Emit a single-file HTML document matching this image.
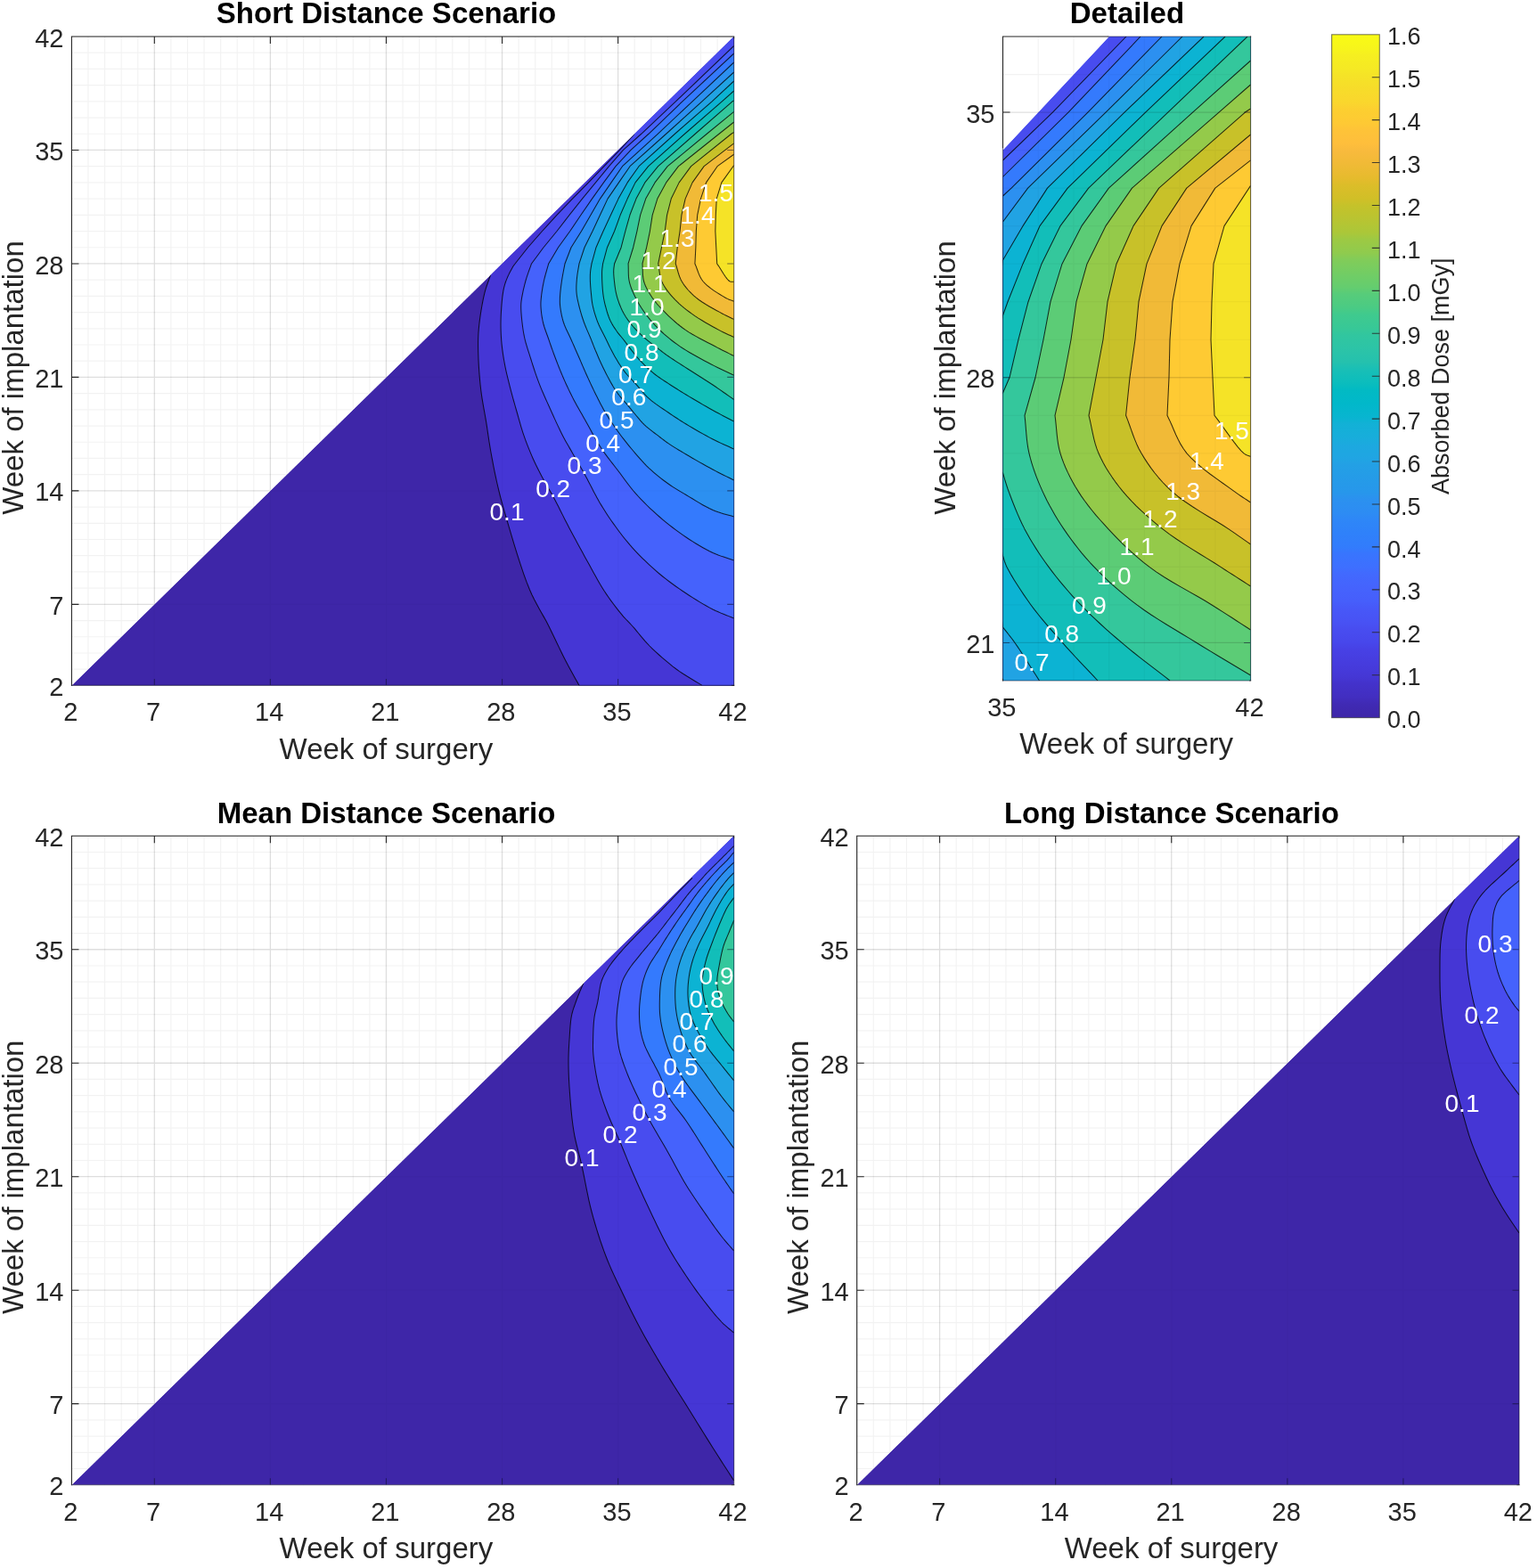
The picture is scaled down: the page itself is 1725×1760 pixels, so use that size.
<!DOCTYPE html>
<html lang="en"><head><meta charset="utf-8"><title>Absorbed dose contour plots</title>
<style>html,body{margin:0;padding:0;background:#fff}svg{display:block}text{font-family:"Liberation Sans", Arial, Helvetica, sans-serif;fill:#262626}.cl{font-family:"Liberation Sans", Arial, sans-serif;fill:#fff}.tt{fill:#000}</style></head><body>
<svg xmlns="http://www.w3.org/2000/svg" width="1725" height="1760" viewBox="0 0 1725 1760">
<rect width="1725" height="1760" fill="#fff"/>
<clipPath id="clipP1"><rect x="80.4" y="41" width="743.3" height="728.4"/></clipPath>
<clipPath id="clipP1d"><polygon points="80.4,769.4 823.7,41 823.7,769.4"/></clipPath>
<g clip-path="url(#clipP1)">
<path d="M98.98 41V769.4M117.57 41V769.4M136.15 41V769.4M154.73 41V769.4M191.9 41V769.4M210.48 41V769.4M229.06 41V769.4M247.64 41V769.4M266.23 41V769.4M284.81 41V769.4M321.97 41V769.4M340.56 41V769.4M359.14 41V769.4M377.72 41V769.4M396.3 41V769.4M414.88 41V769.4M452.05 41V769.4M470.63 41V769.4M489.22 41V769.4M507.8 41V769.4M526.38 41V769.4M544.96 41V769.4M582.13 41V769.4M600.71 41V769.4M619.29 41V769.4M637.88 41V769.4M656.46 41V769.4M675.04 41V769.4M712.21 41V769.4M730.79 41V769.4M749.37 41V769.4M767.95 41V769.4M786.53 41V769.4M805.12 41V769.4M80.4 751.19H823.7M80.4 732.98H823.7M80.4 714.77H823.7M80.4 696.56H823.7M80.4 660.14H823.7M80.4 641.93H823.7M80.4 623.72H823.7M80.4 605.51H823.7M80.4 587.3H823.7M80.4 569.09H823.7M80.4 532.67H823.7M80.4 514.46H823.7M80.4 496.25H823.7M80.4 478.04H823.7M80.4 459.83H823.7M80.4 441.62H823.7M80.4 405.2H823.7M80.4 386.99H823.7M80.4 368.78H823.7M80.4 350.57H823.7M80.4 332.36H823.7M80.4 314.15H823.7M80.4 277.73H823.7M80.4 259.52H823.7M80.4 241.31H823.7M80.4 223.1H823.7M80.4 204.89H823.7M80.4 186.68H823.7M80.4 150.26H823.7M80.4 132.05H823.7M80.4 113.84H823.7M80.4 95.63H823.7M80.4 77.42H823.7M80.4 59.21H823.7" stroke="#000" stroke-opacity="0.05" stroke-width="1.2" fill="none"/>
<path d="M80.4 41V769.4M173.31 41V769.4M303.39 41V769.4M433.47 41V769.4M563.55 41V769.4M693.62 41V769.4M823.7 41V769.4M80.4 769.4H823.7M80.4 678.35H823.7M80.4 550.88H823.7M80.4 423.41H823.7M80.4 295.94H823.7M80.4 168.47H823.7M80.4 41H823.7" stroke="#000" stroke-opacity="0.13" stroke-width="1.3" fill="none"/>
</g>
<g clip-path="url(#clipP1d)">
<polygon points="80.4,769.4 823.7,41 823.7,769.4" fill="#3e26a8"/>
<polygon points="550.5,308.7 549.64,311.26 548.76,313.76 547.87,316.22 546.99,318.7 546.12,321.24 545.28,323.87 544.47,326.65 543.7,329.6 542.7,333.96 541.73,338.71 540.79,343.74 539.91,348.93 539.1,354.18 538.38,359.38 537.78,364.43 537.3,369.2 537,373.07 536.78,376.79 536.65,380.41 536.58,383.99 536.57,387.57 536.62,391.2 536.69,394.93 536.8,398.8 536.97,403.48 537.2,408.33 537.5,413.3 537.86,418.34 538.27,423.4 538.73,428.45 539.24,433.43 539.8,438.3 540.4,442.86 541.08,447.4 541.83,451.9 542.61,456.38 543.41,460.81 544.21,465.22 544.98,469.58 545.7,473.9 546.32,477.86 546.9,481.73 547.46,485.55 548.01,489.34 548.58,493.15 549.17,497.01 549.81,500.95 550.5,505 551.35,509.77 552.25,514.68 553.19,519.68 554.17,524.74 555.19,529.84 556.26,534.94 557.36,540.01 558.5,545 559.65,549.82 560.8,554.5 561.98,559.11 563.21,563.74 564.5,568.46 565.89,573.36 567.38,578.51 569,584 571.57,592.68 574.43,602.3 577.51,612.54 580.78,623.08 584.16,633.62 587.61,643.83 591.07,653.39 594.5,662 597.05,667.73 599.66,673.08 602.32,678.12 604.99,682.96 607.67,687.68 610.32,692.37 612.94,697.11 615.5,702 617.96,706.93 620.39,711.92 622.79,716.93 625.17,721.92 627.53,726.86 629.87,731.72 632.19,736.44 634.5,741 636.48,744.78 638.43,748.44 640.37,752.01 642.3,755.51 644.22,758.97 646.14,762.41 648.07,765.88 650,769.4 650,829.4 883.7,829.4 883.7,-19 550.5,-19" fill="#4536d5"/>
<polygon points="712,150.5 695.5,168.47 678,186.68 660.5,204.89 642.5,223.1 625,241.31 608.5,259.52 592.5,277.73 578.1,296 577.76,296.48 577.42,296.92 577.09,297.35 576.76,297.78 576.42,298.25 576.06,298.76 575.69,299.33 575.3,300 574.35,301.7 573.24,303.75 572.03,306.08 570.78,308.62 569.54,311.33 568.36,314.14 567.29,316.98 566.4,319.8 565.55,323.17 564.84,326.71 564.25,330.39 563.76,334.16 563.37,337.99 563.03,341.83 562.75,345.65 562.5,349.4 562.29,353.09 562.14,356.79 562.05,360.49 562.02,364.2 562.05,367.9 562.14,371.6 562.29,375.3 562.5,379 562.78,382.72 563.13,386.44 563.54,390.16 564.02,393.88 564.54,397.59 565.12,401.3 565.74,405 566.4,408.7 567.13,412.44 567.92,416.2 568.78,419.97 569.69,423.73 570.61,427.46 571.55,431.15 572.49,434.77 573.4,438.3 574.21,441.39 575.01,444.39 575.82,447.33 576.63,450.24 577.45,453.13 578.29,456.04 579.13,458.99 580,462 580.92,465.26 581.84,468.55 582.76,471.86 583.7,475.2 584.67,478.55 585.69,481.92 586.76,485.31 587.9,488.7 589.2,492.37 590.58,496.1 592.02,499.87 593.51,503.64 595.04,507.39 596.61,511.1 598.2,514.75 599.8,518.3 601.34,521.57 602.94,524.84 604.59,528.09 606.25,531.28 607.91,534.39 609.54,537.4 611.11,540.28 612.6,543 613.66,544.9 614.66,546.64 615.62,548.26 616.57,549.84 617.53,551.44 618.52,553.13 619.57,554.96 620.7,557 622.64,560.64 624.73,564.69 626.95,569.06 629.26,573.65 631.63,578.38 634.03,583.14 636.43,587.85 638.8,592.4 641.21,596.95 643.65,601.53 646.11,606.12 648.6,610.7 651.09,615.28 653.6,619.85 656.1,624.39 658.6,628.9 661.03,633.32 663.46,637.76 665.87,642.2 668.3,646.62 670.75,650.99 673.22,655.27 675.74,659.45 678.3,663.5 680.72,667.13 683.22,670.75 685.77,674.32 688.34,677.8 690.89,681.16 693.39,684.37 695.8,687.4 698.1,690.2 699.67,692.04 701.16,693.7 702.61,695.24 704.02,696.71 705.45,698.17 706.9,699.67 708.41,701.26 710,703 712.14,705.45 714.32,708.06 716.55,710.79 718.86,713.6 721.24,716.46 723.72,719.34 726.3,722.2 729,725 732.34,728.28 735.88,731.63 739.58,735.01 743.4,738.38 747.29,741.71 751.22,744.95 755.13,748.06 759,751 762.57,753.57 766.18,755.99 769.8,758.31 773.43,760.55 777.08,762.74 780.73,764.93 784.37,767.14 788,769.4 788,829.4 883.7,829.4 883.7,-19 712,-19" fill="#484cef"/>
<polygon points="823.7,51.5 758.4,113.84 719.77,150.26 699.5,168.47 683.5,186.68 668.5,204.89 653.5,223.1 639,241.31 625,259.52 610,277.73 596.5,295.94 595.67,298.32 594.83,300.69 593.97,303.05 593.12,305.42 592.29,307.8 591.48,310.18 590.72,312.58 590,315 589.31,317.52 588.64,320.13 587.99,322.78 587.37,325.44 586.81,328.03 586.3,330.53 585.86,332.87 585.5,335 585.31,336.27 585.14,337.42 585.01,338.49 584.9,339.52 584.82,340.55 584.76,341.61 584.72,342.75 584.7,344 584.72,345.95 584.79,348.07 584.91,350.3 585.07,352.62 585.27,354.98 585.5,357.36 585.74,359.71 586,362 586.27,364.25 586.55,366.49 586.86,368.73 587.19,370.97 587.55,373.21 587.96,375.46 588.4,377.72 588.9,380 589.49,382.42 590.13,384.81 590.82,387.21 591.55,389.62 592.32,392.06 593.12,394.56 593.95,397.14 594.8,399.8 595.88,403.23 597.01,406.8 598.18,410.5 599.4,414.27 600.66,418.08 601.97,421.9 603.31,425.68 604.7,429.4 606.16,433.12 607.68,436.84 609.25,440.54 610.87,444.24 612.51,447.93 614.17,451.62 615.83,455.31 617.5,459 619.19,462.75 620.89,466.54 622.62,470.35 624.36,474.14 626.11,477.9 627.87,481.59 629.63,485.2 631.4,488.7 632.98,491.71 634.58,494.65 636.19,497.52 637.8,500.34 639.41,503.12 641.02,505.88 642.62,508.64 644.2,511.4 645.71,514.04 647.22,516.65 648.72,519.24 650.21,521.81 651.7,524.39 653.18,526.97 654.65,529.57 656.1,532.2 657.58,534.94 659.08,537.78 660.58,540.66 662.06,543.54 663.51,546.36 664.92,549.08 666.25,551.64 667.5,554 668.3,555.5 669.02,556.86 669.7,558.13 670.36,559.36 671.03,560.59 671.74,561.86 672.52,563.21 673.4,564.7 674.88,567.14 676.5,569.77 678.25,572.55 680.1,575.45 682.04,578.42 684.05,581.43 686.11,584.44 688.2,587.4 690.64,590.78 693.15,594.21 695.75,597.69 698.43,601.2 701.19,604.71 704.04,608.2 706.97,611.68 710,615.1 713.42,618.81 717,622.55 720.69,626.28 724.48,629.99 728.33,633.64 732.22,637.21 736.12,640.67 740,644 743.67,647.02 747.37,649.94 751.09,652.78 754.84,655.54 758.61,658.23 762.4,660.87 766.19,663.45 770,666 773.72,668.45 777.5,670.89 781.3,673.29 785.1,675.63 788.9,677.89 792.66,680.06 796.37,682.1 800,684 803.05,685.49 806.06,686.85 809.02,688.12 811.97,689.31 814.89,690.47 817.82,691.62 820.75,692.78 823.7,694 883.7,694 883.7,51.5" fill="#4562fc"/>
<polygon points="823.7,60 765.89,113.84 728,150.26 708,168.47 691,186.68 677.5,204.89 664.5,223.1 652,241.31 639.7,259.52 626.5,277.73 615.7,295.94 615.04,298.32 614.35,300.71 613.66,303.1 612.97,305.49 612.29,307.88 611.65,310.26 611.05,312.63 610.5,315 610.01,317.29 609.55,319.62 609.12,321.96 608.71,324.29 608.34,326.58 608.02,328.81 607.73,330.96 607.5,333 607.35,334.48 607.21,335.87 607.1,337.2 607.02,338.5 606.96,339.8 606.94,341.13 606.95,342.52 607,344 607.12,346.04 607.3,348.2 607.53,350.45 607.82,352.75 608.16,355.09 608.56,357.42 609,359.74 609.5,362 610.08,364.26 610.74,366.51 611.47,368.74 612.24,370.97 613.05,373.21 613.87,375.45 614.7,377.71 615.5,380 616.33,382.42 617.16,384.84 618,387.27 618.85,389.72 619.72,392.19 620.61,394.69 621.54,397.22 622.5,399.8 623.62,402.77 624.78,405.8 625.98,408.89 627.21,412.01 628.47,415.15 629.75,418.29 631.07,421.41 632.4,424.5 633.78,427.61 635.18,430.71 636.61,433.81 638.07,436.9 639.56,439.98 641.08,443.06 642.62,446.14 644.2,449.2 645.86,452.33 647.58,455.47 649.35,458.61 651.15,461.75 652.94,464.86 654.71,467.93 656.44,470.95 658.1,473.9 659.52,476.49 660.91,479.06 662.28,481.61 663.62,484.12 664.95,486.58 666.27,488.99 667.58,491.33 668.9,493.6 670.01,495.45 671.07,497.22 672.12,498.91 673.17,500.58 674.24,502.24 675.35,503.93 676.53,505.67 677.8,507.5 679.52,509.9 681.35,512.37 683.27,514.9 685.26,517.49 687.31,520.12 689.4,522.79 691.5,525.48 693.6,528.2 695.93,531.29 698.28,534.46 700.64,537.69 703.05,540.96 705.52,544.24 708.06,547.5 710.68,550.73 713.4,553.9 716.44,557.26 719.58,560.61 722.83,563.94 726.15,567.25 729.55,570.52 733,573.74 736.49,576.9 740,580 743.59,583.07 747.24,586.1 750.96,589.08 754.72,592.01 758.51,594.87 762.33,597.67 766.16,600.38 770,603 773.71,605.46 777.47,607.88 781.26,610.25 785.07,612.54 788.87,614.73 792.64,616.8 796.35,618.73 800,620.5 803.04,621.84 806.04,623.04 809.01,624.12 811.96,625.12 814.89,626.07 817.81,627.01 820.75,627.98 823.7,629 883.7,629 883.7,60" fill="#347afd"/>
<polygon points="823.7,70 777.11,113.84 738.24,150.26 698.5,186.68 686,204.89 673.5,223.1 663,241.31 652.5,259.52 641,277.73 634,295.94 633.55,298.33 633.09,300.72 632.62,303.11 632.16,305.5 631.71,307.89 631.27,310.27 630.87,312.64 630.5,315 630.17,317.3 629.84,319.63 629.54,321.97 629.26,324.3 629,326.59 628.79,328.82 628.62,330.96 628.5,333 628.43,334.48 628.39,335.88 628.36,337.21 628.35,338.51 628.38,339.81 628.45,341.13 628.55,342.52 628.7,344 628.96,346.05 629.28,348.21 629.66,350.46 630.11,352.77 630.62,355.11 631.18,357.44 631.81,359.75 632.5,362 633.3,364.27 634.2,366.52 635.18,368.76 636.22,370.99 637.3,373.21 638.38,375.45 639.46,377.71 640.5,380 641.57,382.42 642.64,384.85 643.72,387.29 644.8,389.75 645.88,392.23 646.98,394.73 648.08,397.25 649.2,399.8 650.41,402.57 651.63,405.39 652.85,408.25 654.09,411.13 655.34,414.01 656.59,416.87 657.84,419.71 659.1,422.5 660.31,425.15 661.52,427.78 662.73,430.4 663.95,432.99 665.18,435.57 666.41,438.14 667.65,440.68 668.9,443.2 670.1,445.6 671.29,447.98 672.48,450.33 673.68,452.67 674.9,455 676.15,457.33 677.45,459.66 678.8,462 680.27,464.47 681.79,466.94 683.34,469.41 684.93,471.88 686.56,474.35 688.23,476.83 689.95,479.31 691.7,481.8 693.64,484.5 695.64,487.21 697.68,489.94 699.77,492.67 701.91,495.39 704.07,498.11 706.27,500.81 708.5,503.5 710.83,506.28 713.2,509.08 715.6,511.89 718.04,514.68 720.52,517.43 723.03,520.13 725.6,522.76 728.2,525.3 730.8,527.71 733.47,530.08 736.19,532.39 738.94,534.64 741.71,536.83 744.49,538.96 747.26,541.01 750,543 752.47,544.72 754.9,546.34 757.31,547.89 759.73,549.38 762.18,550.87 764.69,552.36 767.29,553.89 770,555.5 773.46,557.59 777.11,559.81 780.88,562.11 784.74,564.42 788.64,566.68 792.51,568.82 796.31,570.78 800,572.5 803.04,573.74 806.04,574.82 809.01,575.78 811.95,576.65 814.88,577.47 817.81,578.27 820.75,579.11 823.7,580 883.7,580 883.7,70" fill="#2c90f0"/>
<polygon points="823.7,81 787.87,113.84 747.65,150.26 707,186.68 694.5,204.89 682,223.1 673.5,241.31 665,259.52 656,277.73 650,295.94 649.67,297.95 649.33,299.95 648.97,301.96 648.62,303.97 648.29,305.97 647.98,307.98 647.72,309.99 647.5,312 647.32,314 647.16,316 647.02,318 646.91,320 646.85,322.01 646.84,324.01 646.88,326.01 647,328 647.19,330 647.45,331.99 647.78,333.98 648.15,335.96 648.57,337.95 649.02,339.95 649.5,341.97 650,344 650.56,346.21 651.17,348.45 651.81,350.7 652.49,352.97 653.2,355.24 653.94,357.5 654.71,359.76 655.5,362 656.35,364.28 657.26,366.56 658.22,368.85 659.19,371.13 660.18,373.39 661.15,375.63 662.1,377.83 663,380 663.76,381.9 664.49,383.74 665.19,385.53 665.88,387.32 666.58,389.12 667.31,390.94 668.07,392.83 668.9,394.8 669.98,397.33 671.11,399.97 672.29,402.68 673.52,405.45 674.78,408.25 676.09,411.06 677.43,413.85 678.8,416.6 680.27,419.47 681.79,422.38 683.34,425.31 684.94,428.23 686.58,431.12 688.25,433.94 689.96,436.68 691.7,439.3 693.32,441.57 694.97,443.73 696.65,445.8 698.36,447.83 700.1,449.85 701.87,451.88 703.67,453.95 705.5,456.1 707.61,458.64 709.78,461.3 712,464.03 714.25,466.76 716.52,469.46 718.8,472.07 721.06,474.53 723.3,476.8 725.16,478.53 727.04,480.16 728.92,481.71 730.79,483.18 732.66,484.59 734.5,485.98 736.32,487.34 738.1,488.7 739.62,489.88 741.07,491.01 742.49,492.11 743.9,493.19 745.33,494.27 746.8,495.35 748.35,496.46 750,497.6 752.2,499.08 754.5,500.57 756.9,502.09 759.38,503.62 761.94,505.18 764.56,506.76 767.25,508.37 770,510 773.47,512.04 777.13,514.18 780.93,516.37 784.8,518.59 788.71,520.79 792.58,522.95 796.36,525.03 800,527 803.08,528.63 806.1,530.19 809.07,531.7 812,533.17 814.92,534.62 817.83,536.06 820.75,537.52 823.7,539 883.7,539 883.7,81" fill="#21a3e3"/>
<polygon points="823.7,91 799.1,113.84 757.47,150.26 717.01,186.68 704.15,204.89 694,223.1 685.5,241.31 677,259.52 669,277.73 664,295.94 663.82,297.07 663.62,298.19 663.42,299.32 663.23,300.44 663.04,301.57 662.87,302.7 662.72,303.84 662.6,305 662.51,306.21 662.44,307.41 662.39,308.62 662.36,309.84 662.35,311.08 662.35,312.35 662.37,313.65 662.4,315 662.46,316.74 662.55,318.56 662.67,320.44 662.81,322.36 662.96,324.3 663.13,326.24 663.31,328.14 663.5,330 663.67,331.71 663.83,333.38 664,335.04 664.18,336.68 664.39,338.34 664.64,340.01 664.94,341.73 665.3,343.5 665.81,345.69 666.38,347.96 667.03,350.28 667.73,352.64 668.48,355.01 669.28,357.37 670.12,359.71 671,362 671.95,364.29 672.98,366.56 674.07,368.82 675.2,371.06 676.36,373.3 677.52,375.53 678.67,377.76 679.8,380 680.89,382.23 681.96,384.46 683.03,386.69 684.1,388.91 685.19,391.13 686.31,393.35 687.48,395.58 688.7,397.8 690.05,400.17 691.44,402.58 692.88,404.99 694.35,407.4 695.86,409.79 697.41,412.13 698.99,414.41 700.6,416.6 702.16,418.59 703.77,420.49 705.42,422.34 707.09,424.15 708.79,425.94 710.49,427.74 712.2,429.55 713.9,431.4 715.63,433.36 717.32,435.35 719.01,437.36 720.72,439.37 722.46,441.37 724.27,443.35 726.18,445.3 728.2,447.2 730.64,449.29 733.24,451.34 735.96,453.37 738.76,455.36 741.6,457.32 744.45,459.24 747.26,461.14 750,463 752.49,464.7 754.93,466.35 757.34,467.96 759.75,469.55 762.19,471.13 764.7,472.72 767.29,474.34 770,476 773.46,478.09 777.11,480.25 780.9,482.47 784.78,484.7 788.68,486.9 792.56,489.04 796.35,491.09 800,493 803.07,494.54 806.08,496 809.05,497.38 811.99,498.72 814.91,500.03 817.83,501.33 820.75,502.65 823.7,504 883.7,504 883.7,91" fill="#0cb3d3"/>
<polygon points="823.7,102 810.32,113.84 768.51,150.26 727.63,186.68 713.03,204.89 704.15,223.1 696.2,241.31 689.6,259.52 681.5,277.73 676.6,295.94 676.47,297.04 676.32,298.1 676.17,299.14 676.02,300.19 675.88,301.28 675.76,302.42 675.66,303.65 675.6,305 675.56,307.55 675.59,310.47 675.67,313.65 675.81,316.99 676,320.37 676.23,323.67 676.5,326.78 676.8,329.6 677.05,331.53 677.32,333.35 677.61,335.08 677.93,336.77 678.27,338.42 678.65,340.08 679.06,341.76 679.5,343.5 680.02,345.46 680.57,347.46 681.15,349.49 681.78,351.52 682.44,353.54 683.15,355.52 683.9,357.45 684.7,359.3 685.49,360.95 686.33,362.55 687.21,364.12 688.13,365.65 689.07,367.15 690.04,368.62 691.02,370.07 692,371.5 692.95,372.82 693.92,374.09 694.92,375.33 695.93,376.55 696.95,377.76 697.97,378.98 698.99,380.23 700,381.5 701.05,382.87 702.09,384.26 703.12,385.66 704.16,387.07 705.21,388.49 706.28,389.92 707.37,391.36 708.5,392.8 709.76,394.39 711.03,395.99 712.32,397.61 713.64,399.23 714.99,400.86 716.38,402.48 717.81,404.1 719.3,405.7 721,407.46 722.77,409.24 724.59,411.02 726.47,412.79 728.37,414.53 730.3,416.24 732.25,417.9 734.2,419.5 736.1,420.98 738.01,422.39 739.94,423.75 741.89,425.08 743.86,426.39 745.87,427.7 747.92,429.03 750,430.4 752.35,431.94 754.72,433.47 757.12,435.01 759.57,436.56 762.07,438.13 764.64,439.72 767.28,441.34 770,443 773.47,445.09 777.13,447.28 780.93,449.54 784.81,451.81 788.71,454.09 792.58,456.31 796.36,458.46 800,460.5 803.08,462.19 806.1,463.81 809.07,465.38 812,466.92 814.92,468.43 817.83,469.94 820.75,471.46 823.7,473 883.7,473 883.7,102" fill="#12beb9"/>
<polygon points="823.7,113 822.02,113.84 780.29,150.26 738.62,186.68 723.79,204.89 713.97,223.1 706.95,241.31 701.81,259.52 697.13,277.73 689.6,295.94 689.48,296.94 689.34,297.92 689.2,298.89 689.06,299.87 688.93,300.86 688.83,301.87 688.75,302.92 688.7,304 688.69,305.38 688.73,306.82 688.8,308.29 688.9,309.81 689.03,311.34 689.17,312.9 689.33,314.45 689.5,316 689.69,317.67 689.89,319.36 690.11,321.08 690.35,322.8 690.61,324.53 690.91,326.24 691.24,327.94 691.6,329.6 691.99,331.19 692.4,332.77 692.84,334.33 693.32,335.88 693.82,337.42 694.35,338.95 694.91,340.47 695.5,342 696.13,343.56 696.79,345.12 697.48,346.67 698.2,348.21 698.96,349.74 699.76,351.27 700.61,352.79 701.5,354.3 702.52,355.92 703.6,357.54 704.73,359.15 705.92,360.76 707.14,362.34 708.4,363.92 709.69,365.47 711,367 712.4,368.56 713.84,370.1 715.32,371.62 716.84,373.12 718.38,374.61 719.96,376.08 721.57,377.54 723.2,379 724.97,380.54 726.81,382.08 728.7,383.61 730.61,385.12 732.53,386.61 734.43,388.08 736.3,389.51 738.1,390.9 739.61,392.07 741.05,393.18 742.44,394.26 743.83,395.31 745.24,396.37 746.72,397.46 748.29,398.6 750,399.8 752.67,401.62 755.58,403.56 758.67,405.57 761.9,407.65 765.2,409.75 768.52,411.86 771.81,413.95 775,416 778.13,418 781.27,419.99 784.41,421.98 787.56,423.96 790.69,425.95 793.82,427.95 796.92,429.97 800,432 803.01,434.03 805.99,436.07 808.96,438.14 811.91,440.21 814.85,442.28 817.8,444.36 820.74,446.43 823.7,448.5 883.7,448.5 883.7,113" fill="#34c79c"/>
<polygon points="823.7,125.4 793.3,150.26 749.24,186.68 735.02,204.89 724.73,223.1 718.65,241.31 714.9,259.52 710.69,277.73 705.08,295.94 705.18,298.43 705.23,300.93 705.25,303.43 705.28,305.94 705.36,308.43 705.52,310.9 705.79,313.34 706.22,315.75 706.79,318.1 707.48,320.42 708.26,322.72 709.14,324.99 710.08,327.25 711.09,329.5 712.15,331.73 713.24,333.96 714.43,336.29 715.68,338.6 717,340.9 718.38,343.19 719.81,345.46 721.31,347.71 722.86,349.95 724.46,352.17 726.22,354.51 728.05,356.84 729.93,359.15 731.88,361.44 733.9,363.71 735.98,365.96 738.14,368.18 740.37,370.38 742.88,372.75 745.48,375.1 748.17,377.42 750.93,379.71 753.78,381.97 756.71,384.21 759.72,386.41 762.82,388.59 766.42,391 770.2,393.38 774.1,395.72 778.1,398.03 782.14,400.29 786.19,402.51 790.21,404.68 794.16,406.8 797.86,408.75 801.56,410.63 805.26,412.45 808.95,414.24 812.63,416.01 816.32,417.77 820.01,419.54 823.7,421.34 883.7,421.34 883.7,125.4" fill="#5ccc76"/>
<polygon points="823.7,136.96 807.05,150.26 761.44,186.68 747.65,204.89 737.82,223.1 732.21,241.31 729.4,259.52 725.66,277.73 720.99,295.94 721.13,298.43 721.21,300.94 721.26,303.45 721.32,305.96 721.44,308.46 721.66,310.93 722.03,313.36 722.59,315.75 723.35,318.13 724.26,320.47 725.31,322.78 726.47,325.06 727.73,327.32 729.07,329.55 730.48,331.76 731.95,333.96 733.62,336.32 735.41,338.66 737.3,340.97 739.28,343.25 741.34,345.51 743.46,347.75 745.64,349.97 747.85,352.17 750.28,354.53 752.76,356.88 755.31,359.21 757.93,361.51 760.63,363.78 763.43,366.02 766.34,368.22 769.37,370.38 773.1,372.83 777.11,375.26 781.31,377.65 785.61,379.99 789.93,382.27 794.18,384.47 798.27,386.58 802.11,388.59 805.01,390.11 807.8,391.55 810.51,392.93 813.17,394.25 815.79,395.56 818.4,396.85 821.03,398.16 823.7,399.5 883.7,399.5 883.7,136.96" fill="#94ca4a"/>
<polygon points="823.7,148.52 820.8,150.26 775.57,186.68 762.15,204.89 753.26,223.1 748.58,241.31 746.24,259.52 742.5,277.73 738.76,295.94 739.2,298.43 739.56,300.95 739.89,303.47 740.24,305.99 740.64,308.49 741.16,310.96 741.83,313.39 742.7,315.75 743.83,318.16 745.11,320.53 746.55,322.85 748.11,325.13 749.79,327.38 751.56,329.6 753.42,331.79 755.33,333.96 757.58,336.36 759.95,338.72 762.45,341.04 765.06,343.33 767.76,345.59 770.56,347.81 773.44,350 776.38,352.17 779.9,354.62 783.68,357.09 787.63,359.54 791.66,361.94 795.68,364.26 799.6,366.46 803.33,368.51 806.78,370.38 809.11,371.6 811.32,372.72 813.45,373.75 815.52,374.72 817.55,375.66 819.57,376.59 821.62,377.54 823.7,378.52 883.7,378.52 883.7,148.52" fill="#c8c129"/>
<polygon points="823.7,160.94 790.12,186.68 777.11,204.89 769.16,223.1 764.95,241.31 763.08,259.52 760.27,277.73 758.22,295.94 759.03,298.43 759.77,300.96 760.48,303.49 761.21,306.02 762,308.52 762.89,310.99 763.92,313.4 765.16,315.75 766.67,318.2 768.32,320.59 770.12,322.93 772.05,325.23 774.11,327.48 776.31,329.68 778.62,331.84 781.06,333.96 784.32,336.5 788,339.04 791.95,341.54 796.05,343.96 800.14,346.27 804.09,348.44 807.75,350.41 810.99,352.17 812.82,353.15 814.52,354.02 816.12,354.81 817.65,355.54 819.15,356.25 820.64,356.94 822.15,357.65 823.7,358.4 883.7,358.4 883.7,160.94" fill="#f1ba37"/>
<polygon points="823.7,173.27 805.08,186.68 792.55,204.89 786.47,223.1 782.73,241.31 781.32,259.52 780.86,277.73 779.92,295.94 780.98,298.44 781.94,300.99 782.86,303.55 783.79,306.1 784.81,308.62 785.98,311.09 787.36,313.47 789.01,315.75 791.45,318.4 794.38,321.03 797.64,323.61 801.09,326.07 804.58,328.39 807.96,330.51 811.08,332.38 813.8,333.96 815.21,334.73 816.53,335.38 817.77,335.93 818.97,336.42 820.14,336.87 821.31,337.31 822.49,337.77 823.7,338.28 883.7,338.28 883.7,173.27" fill="#feca33"/>
<polygon points="823.7,185.52 809.85,204.89 804.24,223.1 803.31,241.31 802.84,259.52 803.77,277.73 804.71,295.94 806.52,298.59 808.38,301.5 810.26,304.52 812.13,307.48 813.96,310.23 815.73,312.63 817.4,314.52 818.95,315.75 819.58,316.05 820.2,316.22 820.8,316.29 821.38,316.29 821.96,316.24 822.53,316.19 823.11,316.16 823.7,316.18 883.7,316.18 883.7,185.52" fill="#f5e327"/>
<polyline points="550.5,308.7 549.64,311.26 548.76,313.76 547.87,316.22 546.99,318.7 546.12,321.24 545.28,323.87 544.47,326.65 543.7,329.6 542.7,333.96 541.73,338.71 540.79,343.74 539.91,348.93 539.1,354.18 538.38,359.38 537.78,364.43 537.3,369.2 537,373.07 536.78,376.79 536.65,380.41 536.58,383.99 536.57,387.57 536.62,391.2 536.69,394.93 536.8,398.8 536.97,403.48 537.2,408.33 537.5,413.3 537.86,418.34 538.27,423.4 538.73,428.45 539.24,433.43 539.8,438.3 540.4,442.86 541.08,447.4 541.83,451.9 542.61,456.38 543.41,460.81 544.21,465.22 544.98,469.58 545.7,473.9 546.32,477.86 546.9,481.73 547.46,485.55 548.01,489.34 548.58,493.15 549.17,497.01 549.81,500.95 550.5,505 551.35,509.77 552.25,514.68 553.19,519.68 554.17,524.74 555.19,529.84 556.26,534.94 557.36,540.01 558.5,545 559.65,549.82 560.8,554.5 561.98,559.11 563.21,563.74 564.5,568.46 565.89,573.36 567.38,578.51 569,584 571.57,592.68 574.43,602.3 577.51,612.54 580.78,623.08 584.16,633.62 587.61,643.83 591.07,653.39 594.5,662 597.05,667.73 599.66,673.08 602.32,678.12 604.99,682.96 607.67,687.68 610.32,692.37 612.94,697.11 615.5,702 617.96,706.93 620.39,711.92 622.79,716.93 625.17,721.92 627.53,726.86 629.87,731.72 632.19,736.44 634.5,741 636.48,744.78 638.43,748.44 640.37,752.01 642.3,755.51 644.22,758.97 646.14,762.41 648.07,765.88 650,769.4" fill="none" stroke="#000" stroke-opacity="0.78" stroke-width="1.05" stroke-linejoin="round"/>
<polyline points="712,150.5 695.5,168.47 678,186.68 660.5,204.89 642.5,223.1 625,241.31 608.5,259.52 592.5,277.73 578.1,296 577.76,296.48 577.42,296.92 577.09,297.35 576.76,297.78 576.42,298.25 576.06,298.76 575.69,299.33 575.3,300 574.35,301.7 573.24,303.75 572.03,306.08 570.78,308.62 569.54,311.33 568.36,314.14 567.29,316.98 566.4,319.8 565.55,323.17 564.84,326.71 564.25,330.39 563.76,334.16 563.37,337.99 563.03,341.83 562.75,345.65 562.5,349.4 562.29,353.09 562.14,356.79 562.05,360.49 562.02,364.2 562.05,367.9 562.14,371.6 562.29,375.3 562.5,379 562.78,382.72 563.13,386.44 563.54,390.16 564.02,393.88 564.54,397.59 565.12,401.3 565.74,405 566.4,408.7 567.13,412.44 567.92,416.2 568.78,419.97 569.69,423.73 570.61,427.46 571.55,431.15 572.49,434.77 573.4,438.3 574.21,441.39 575.01,444.39 575.82,447.33 576.63,450.24 577.45,453.13 578.29,456.04 579.13,458.99 580,462 580.92,465.26 581.84,468.55 582.76,471.86 583.7,475.2 584.67,478.55 585.69,481.92 586.76,485.31 587.9,488.7 589.2,492.37 590.58,496.1 592.02,499.87 593.51,503.64 595.04,507.39 596.61,511.1 598.2,514.75 599.8,518.3 601.34,521.57 602.94,524.84 604.59,528.09 606.25,531.28 607.91,534.39 609.54,537.4 611.11,540.28 612.6,543 613.66,544.9 614.66,546.64 615.62,548.26 616.57,549.84 617.53,551.44 618.52,553.13 619.57,554.96 620.7,557 622.64,560.64 624.73,564.69 626.95,569.06 629.26,573.65 631.63,578.38 634.03,583.14 636.43,587.85 638.8,592.4 641.21,596.95 643.65,601.53 646.11,606.12 648.6,610.7 651.09,615.28 653.6,619.85 656.1,624.39 658.6,628.9 661.03,633.32 663.46,637.76 665.87,642.2 668.3,646.62 670.75,650.99 673.22,655.27 675.74,659.45 678.3,663.5 680.72,667.13 683.22,670.75 685.77,674.32 688.34,677.8 690.89,681.16 693.39,684.37 695.8,687.4 698.1,690.2 699.67,692.04 701.16,693.7 702.61,695.24 704.02,696.71 705.45,698.17 706.9,699.67 708.41,701.26 710,703 712.14,705.45 714.32,708.06 716.55,710.79 718.86,713.6 721.24,716.46 723.72,719.34 726.3,722.2 729,725 732.34,728.28 735.88,731.63 739.58,735.01 743.4,738.38 747.29,741.71 751.22,744.95 755.13,748.06 759,751 762.57,753.57 766.18,755.99 769.8,758.31 773.43,760.55 777.08,762.74 780.73,764.93 784.37,767.14 788,769.4" fill="none" stroke="#000" stroke-opacity="0.78" stroke-width="1.05" stroke-linejoin="round"/>
<polyline points="823.7,51.5 758.4,113.84 719.77,150.26 699.5,168.47 683.5,186.68 668.5,204.89 653.5,223.1 639,241.31 625,259.52 610,277.73 596.5,295.94 595.67,298.32 594.83,300.69 593.97,303.05 593.12,305.42 592.29,307.8 591.48,310.18 590.72,312.58 590,315 589.31,317.52 588.64,320.13 587.99,322.78 587.37,325.44 586.81,328.03 586.3,330.53 585.86,332.87 585.5,335 585.31,336.27 585.14,337.42 585.01,338.49 584.9,339.52 584.82,340.55 584.76,341.61 584.72,342.75 584.7,344 584.72,345.95 584.79,348.07 584.91,350.3 585.07,352.62 585.27,354.98 585.5,357.36 585.74,359.71 586,362 586.27,364.25 586.55,366.49 586.86,368.73 587.19,370.97 587.55,373.21 587.96,375.46 588.4,377.72 588.9,380 589.49,382.42 590.13,384.81 590.82,387.21 591.55,389.62 592.32,392.06 593.12,394.56 593.95,397.14 594.8,399.8 595.88,403.23 597.01,406.8 598.18,410.5 599.4,414.27 600.66,418.08 601.97,421.9 603.31,425.68 604.7,429.4 606.16,433.12 607.68,436.84 609.25,440.54 610.87,444.24 612.51,447.93 614.17,451.62 615.83,455.31 617.5,459 619.19,462.75 620.89,466.54 622.62,470.35 624.36,474.14 626.11,477.9 627.87,481.59 629.63,485.2 631.4,488.7 632.98,491.71 634.58,494.65 636.19,497.52 637.8,500.34 639.41,503.12 641.02,505.88 642.62,508.64 644.2,511.4 645.71,514.04 647.22,516.65 648.72,519.24 650.21,521.81 651.7,524.39 653.18,526.97 654.65,529.57 656.1,532.2 657.58,534.94 659.08,537.78 660.58,540.66 662.06,543.54 663.51,546.36 664.92,549.08 666.25,551.64 667.5,554 668.3,555.5 669.02,556.86 669.7,558.13 670.36,559.36 671.03,560.59 671.74,561.86 672.52,563.21 673.4,564.7 674.88,567.14 676.5,569.77 678.25,572.55 680.1,575.45 682.04,578.42 684.05,581.43 686.11,584.44 688.2,587.4 690.64,590.78 693.15,594.21 695.75,597.69 698.43,601.2 701.19,604.71 704.04,608.2 706.97,611.68 710,615.1 713.42,618.81 717,622.55 720.69,626.28 724.48,629.99 728.33,633.64 732.22,637.21 736.12,640.67 740,644 743.67,647.02 747.37,649.94 751.09,652.78 754.84,655.54 758.61,658.23 762.4,660.87 766.19,663.45 770,666 773.72,668.45 777.5,670.89 781.3,673.29 785.1,675.63 788.9,677.89 792.66,680.06 796.37,682.1 800,684 803.05,685.49 806.06,686.85 809.02,688.12 811.97,689.31 814.89,690.47 817.82,691.62 820.75,692.78 823.7,694" fill="none" stroke="#000" stroke-opacity="0.78" stroke-width="1.05" stroke-linejoin="round"/>
<polyline points="823.7,60 765.89,113.84 728,150.26 708,168.47 691,186.68 677.5,204.89 664.5,223.1 652,241.31 639.7,259.52 626.5,277.73 615.7,295.94 615.04,298.32 614.35,300.71 613.66,303.1 612.97,305.49 612.29,307.88 611.65,310.26 611.05,312.63 610.5,315 610.01,317.29 609.55,319.62 609.12,321.96 608.71,324.29 608.34,326.58 608.02,328.81 607.73,330.96 607.5,333 607.35,334.48 607.21,335.87 607.1,337.2 607.02,338.5 606.96,339.8 606.94,341.13 606.95,342.52 607,344 607.12,346.04 607.3,348.2 607.53,350.45 607.82,352.75 608.16,355.09 608.56,357.42 609,359.74 609.5,362 610.08,364.26 610.74,366.51 611.47,368.74 612.24,370.97 613.05,373.21 613.87,375.45 614.7,377.71 615.5,380 616.33,382.42 617.16,384.84 618,387.27 618.85,389.72 619.72,392.19 620.61,394.69 621.54,397.22 622.5,399.8 623.62,402.77 624.78,405.8 625.98,408.89 627.21,412.01 628.47,415.15 629.75,418.29 631.07,421.41 632.4,424.5 633.78,427.61 635.18,430.71 636.61,433.81 638.07,436.9 639.56,439.98 641.08,443.06 642.62,446.14 644.2,449.2 645.86,452.33 647.58,455.47 649.35,458.61 651.15,461.75 652.94,464.86 654.71,467.93 656.44,470.95 658.1,473.9 659.52,476.49 660.91,479.06 662.28,481.61 663.62,484.12 664.95,486.58 666.27,488.99 667.58,491.33 668.9,493.6 670.01,495.45 671.07,497.22 672.12,498.91 673.17,500.58 674.24,502.24 675.35,503.93 676.53,505.67 677.8,507.5 679.52,509.9 681.35,512.37 683.27,514.9 685.26,517.49 687.31,520.12 689.4,522.79 691.5,525.48 693.6,528.2 695.93,531.29 698.28,534.46 700.64,537.69 703.05,540.96 705.52,544.24 708.06,547.5 710.68,550.73 713.4,553.9 716.44,557.26 719.58,560.61 722.83,563.94 726.15,567.25 729.55,570.52 733,573.74 736.49,576.9 740,580 743.59,583.07 747.24,586.1 750.96,589.08 754.72,592.01 758.51,594.87 762.33,597.67 766.16,600.38 770,603 773.71,605.46 777.47,607.88 781.26,610.25 785.07,612.54 788.87,614.73 792.64,616.8 796.35,618.73 800,620.5 803.04,621.84 806.04,623.04 809.01,624.12 811.96,625.12 814.89,626.07 817.81,627.01 820.75,627.98 823.7,629" fill="none" stroke="#000" stroke-opacity="0.78" stroke-width="1.05" stroke-linejoin="round"/>
<polyline points="823.7,70 777.11,113.84 738.24,150.26 698.5,186.68 686,204.89 673.5,223.1 663,241.31 652.5,259.52 641,277.73 634,295.94 633.55,298.33 633.09,300.72 632.62,303.11 632.16,305.5 631.71,307.89 631.27,310.27 630.87,312.64 630.5,315 630.17,317.3 629.84,319.63 629.54,321.97 629.26,324.3 629,326.59 628.79,328.82 628.62,330.96 628.5,333 628.43,334.48 628.39,335.88 628.36,337.21 628.35,338.51 628.38,339.81 628.45,341.13 628.55,342.52 628.7,344 628.96,346.05 629.28,348.21 629.66,350.46 630.11,352.77 630.62,355.11 631.18,357.44 631.81,359.75 632.5,362 633.3,364.27 634.2,366.52 635.18,368.76 636.22,370.99 637.3,373.21 638.38,375.45 639.46,377.71 640.5,380 641.57,382.42 642.64,384.85 643.72,387.29 644.8,389.75 645.88,392.23 646.98,394.73 648.08,397.25 649.2,399.8 650.41,402.57 651.63,405.39 652.85,408.25 654.09,411.13 655.34,414.01 656.59,416.87 657.84,419.71 659.1,422.5 660.31,425.15 661.52,427.78 662.73,430.4 663.95,432.99 665.18,435.57 666.41,438.14 667.65,440.68 668.9,443.2 670.1,445.6 671.29,447.98 672.48,450.33 673.68,452.67 674.9,455 676.15,457.33 677.45,459.66 678.8,462 680.27,464.47 681.79,466.94 683.34,469.41 684.93,471.88 686.56,474.35 688.23,476.83 689.95,479.31 691.7,481.8 693.64,484.5 695.64,487.21 697.68,489.94 699.77,492.67 701.91,495.39 704.07,498.11 706.27,500.81 708.5,503.5 710.83,506.28 713.2,509.08 715.6,511.89 718.04,514.68 720.52,517.43 723.03,520.13 725.6,522.76 728.2,525.3 730.8,527.71 733.47,530.08 736.19,532.39 738.94,534.64 741.71,536.83 744.49,538.96 747.26,541.01 750,543 752.47,544.72 754.9,546.34 757.31,547.89 759.73,549.38 762.18,550.87 764.69,552.36 767.29,553.89 770,555.5 773.46,557.59 777.11,559.81 780.88,562.11 784.74,564.42 788.64,566.68 792.51,568.82 796.31,570.78 800,572.5 803.04,573.74 806.04,574.82 809.01,575.78 811.95,576.65 814.88,577.47 817.81,578.27 820.75,579.11 823.7,580" fill="none" stroke="#000" stroke-opacity="0.78" stroke-width="1.05" stroke-linejoin="round"/>
<polyline points="823.7,81 787.87,113.84 747.65,150.26 707,186.68 694.5,204.89 682,223.1 673.5,241.31 665,259.52 656,277.73 650,295.94 649.67,297.95 649.33,299.95 648.97,301.96 648.62,303.97 648.29,305.97 647.98,307.98 647.72,309.99 647.5,312 647.32,314 647.16,316 647.02,318 646.91,320 646.85,322.01 646.84,324.01 646.88,326.01 647,328 647.19,330 647.45,331.99 647.78,333.98 648.15,335.96 648.57,337.95 649.02,339.95 649.5,341.97 650,344 650.56,346.21 651.17,348.45 651.81,350.7 652.49,352.97 653.2,355.24 653.94,357.5 654.71,359.76 655.5,362 656.35,364.28 657.26,366.56 658.22,368.85 659.19,371.13 660.18,373.39 661.15,375.63 662.1,377.83 663,380 663.76,381.9 664.49,383.74 665.19,385.53 665.88,387.32 666.58,389.12 667.31,390.94 668.07,392.83 668.9,394.8 669.98,397.33 671.11,399.97 672.29,402.68 673.52,405.45 674.78,408.25 676.09,411.06 677.43,413.85 678.8,416.6 680.27,419.47 681.79,422.38 683.34,425.31 684.94,428.23 686.58,431.12 688.25,433.94 689.96,436.68 691.7,439.3 693.32,441.57 694.97,443.73 696.65,445.8 698.36,447.83 700.1,449.85 701.87,451.88 703.67,453.95 705.5,456.1 707.61,458.64 709.78,461.3 712,464.03 714.25,466.76 716.52,469.46 718.8,472.07 721.06,474.53 723.3,476.8 725.16,478.53 727.04,480.16 728.92,481.71 730.79,483.18 732.66,484.59 734.5,485.98 736.32,487.34 738.1,488.7 739.62,489.88 741.07,491.01 742.49,492.11 743.9,493.19 745.33,494.27 746.8,495.35 748.35,496.46 750,497.6 752.2,499.08 754.5,500.57 756.9,502.09 759.38,503.62 761.94,505.18 764.56,506.76 767.25,508.37 770,510 773.47,512.04 777.13,514.18 780.93,516.37 784.8,518.59 788.71,520.79 792.58,522.95 796.36,525.03 800,527 803.08,528.63 806.1,530.19 809.07,531.7 812,533.17 814.92,534.62 817.83,536.06 820.75,537.52 823.7,539" fill="none" stroke="#000" stroke-opacity="0.78" stroke-width="1.05" stroke-linejoin="round"/>
<polyline points="823.7,91 799.1,113.84 757.47,150.26 717.01,186.68 704.15,204.89 694,223.1 685.5,241.31 677,259.52 669,277.73 664,295.94 663.82,297.07 663.62,298.19 663.42,299.32 663.23,300.44 663.04,301.57 662.87,302.7 662.72,303.84 662.6,305 662.51,306.21 662.44,307.41 662.39,308.62 662.36,309.84 662.35,311.08 662.35,312.35 662.37,313.65 662.4,315 662.46,316.74 662.55,318.56 662.67,320.44 662.81,322.36 662.96,324.3 663.13,326.24 663.31,328.14 663.5,330 663.67,331.71 663.83,333.38 664,335.04 664.18,336.68 664.39,338.34 664.64,340.01 664.94,341.73 665.3,343.5 665.81,345.69 666.38,347.96 667.03,350.28 667.73,352.64 668.48,355.01 669.28,357.37 670.12,359.71 671,362 671.95,364.29 672.98,366.56 674.07,368.82 675.2,371.06 676.36,373.3 677.52,375.53 678.67,377.76 679.8,380 680.89,382.23 681.96,384.46 683.03,386.69 684.1,388.91 685.19,391.13 686.31,393.35 687.48,395.58 688.7,397.8 690.05,400.17 691.44,402.58 692.88,404.99 694.35,407.4 695.86,409.79 697.41,412.13 698.99,414.41 700.6,416.6 702.16,418.59 703.77,420.49 705.42,422.34 707.09,424.15 708.79,425.94 710.49,427.74 712.2,429.55 713.9,431.4 715.63,433.36 717.32,435.35 719.01,437.36 720.72,439.37 722.46,441.37 724.27,443.35 726.18,445.3 728.2,447.2 730.64,449.29 733.24,451.34 735.96,453.37 738.76,455.36 741.6,457.32 744.45,459.24 747.26,461.14 750,463 752.49,464.7 754.93,466.35 757.34,467.96 759.75,469.55 762.19,471.13 764.7,472.72 767.29,474.34 770,476 773.46,478.09 777.11,480.25 780.9,482.47 784.78,484.7 788.68,486.9 792.56,489.04 796.35,491.09 800,493 803.07,494.54 806.08,496 809.05,497.38 811.99,498.72 814.91,500.03 817.83,501.33 820.75,502.65 823.7,504" fill="none" stroke="#000" stroke-opacity="0.78" stroke-width="1.05" stroke-linejoin="round"/>
<polyline points="823.7,102 810.32,113.84 768.51,150.26 727.63,186.68 713.03,204.89 704.15,223.1 696.2,241.31 689.6,259.52 681.5,277.73 676.6,295.94 676.47,297.04 676.32,298.1 676.17,299.14 676.02,300.19 675.88,301.28 675.76,302.42 675.66,303.65 675.6,305 675.56,307.55 675.59,310.47 675.67,313.65 675.81,316.99 676,320.37 676.23,323.67 676.5,326.78 676.8,329.6 677.05,331.53 677.32,333.35 677.61,335.08 677.93,336.77 678.27,338.42 678.65,340.08 679.06,341.76 679.5,343.5 680.02,345.46 680.57,347.46 681.15,349.49 681.78,351.52 682.44,353.54 683.15,355.52 683.9,357.45 684.7,359.3 685.49,360.95 686.33,362.55 687.21,364.12 688.13,365.65 689.07,367.15 690.04,368.62 691.02,370.07 692,371.5 692.95,372.82 693.92,374.09 694.92,375.33 695.93,376.55 696.95,377.76 697.97,378.98 698.99,380.23 700,381.5 701.05,382.87 702.09,384.26 703.12,385.66 704.16,387.07 705.21,388.49 706.28,389.92 707.37,391.36 708.5,392.8 709.76,394.39 711.03,395.99 712.32,397.61 713.64,399.23 714.99,400.86 716.38,402.48 717.81,404.1 719.3,405.7 721,407.46 722.77,409.24 724.59,411.02 726.47,412.79 728.37,414.53 730.3,416.24 732.25,417.9 734.2,419.5 736.1,420.98 738.01,422.39 739.94,423.75 741.89,425.08 743.86,426.39 745.87,427.7 747.92,429.03 750,430.4 752.35,431.94 754.72,433.47 757.12,435.01 759.57,436.56 762.07,438.13 764.64,439.72 767.28,441.34 770,443 773.47,445.09 777.13,447.28 780.93,449.54 784.81,451.81 788.71,454.09 792.58,456.31 796.36,458.46 800,460.5 803.08,462.19 806.1,463.81 809.07,465.38 812,466.92 814.92,468.43 817.83,469.94 820.75,471.46 823.7,473" fill="none" stroke="#000" stroke-opacity="0.78" stroke-width="1.05" stroke-linejoin="round"/>
<polyline points="823.7,113 822.02,113.84 780.29,150.26 738.62,186.68 723.79,204.89 713.97,223.1 706.95,241.31 701.81,259.52 697.13,277.73 689.6,295.94 689.48,296.94 689.34,297.92 689.2,298.89 689.06,299.87 688.93,300.86 688.83,301.87 688.75,302.92 688.7,304 688.69,305.38 688.73,306.82 688.8,308.29 688.9,309.81 689.03,311.34 689.17,312.9 689.33,314.45 689.5,316 689.69,317.67 689.89,319.36 690.11,321.08 690.35,322.8 690.61,324.53 690.91,326.24 691.24,327.94 691.6,329.6 691.99,331.19 692.4,332.77 692.84,334.33 693.32,335.88 693.82,337.42 694.35,338.95 694.91,340.47 695.5,342 696.13,343.56 696.79,345.12 697.48,346.67 698.2,348.21 698.96,349.74 699.76,351.27 700.61,352.79 701.5,354.3 702.52,355.92 703.6,357.54 704.73,359.15 705.92,360.76 707.14,362.34 708.4,363.92 709.69,365.47 711,367 712.4,368.56 713.84,370.1 715.32,371.62 716.84,373.12 718.38,374.61 719.96,376.08 721.57,377.54 723.2,379 724.97,380.54 726.81,382.08 728.7,383.61 730.61,385.12 732.53,386.61 734.43,388.08 736.3,389.51 738.1,390.9 739.61,392.07 741.05,393.18 742.44,394.26 743.83,395.31 745.24,396.37 746.72,397.46 748.29,398.6 750,399.8 752.67,401.62 755.58,403.56 758.67,405.57 761.9,407.65 765.2,409.75 768.52,411.86 771.81,413.95 775,416 778.13,418 781.27,419.99 784.41,421.98 787.56,423.96 790.69,425.95 793.82,427.95 796.92,429.97 800,432 803.01,434.03 805.99,436.07 808.96,438.14 811.91,440.21 814.85,442.28 817.8,444.36 820.74,446.43 823.7,448.5" fill="none" stroke="#000" stroke-opacity="0.78" stroke-width="1.05" stroke-linejoin="round"/>
<polyline points="823.7,125.4 793.3,150.26 749.24,186.68 735.02,204.89 724.73,223.1 718.65,241.31 714.9,259.52 710.69,277.73 705.08,295.94 705.18,298.43 705.23,300.93 705.25,303.43 705.28,305.94 705.36,308.43 705.52,310.9 705.79,313.34 706.22,315.75 706.79,318.1 707.48,320.42 708.26,322.72 709.14,324.99 710.08,327.25 711.09,329.5 712.15,331.73 713.24,333.96 714.43,336.29 715.68,338.6 717,340.9 718.38,343.19 719.81,345.46 721.31,347.71 722.86,349.95 724.46,352.17 726.22,354.51 728.05,356.84 729.93,359.15 731.88,361.44 733.9,363.71 735.98,365.96 738.14,368.18 740.37,370.38 742.88,372.75 745.48,375.1 748.17,377.42 750.93,379.71 753.78,381.97 756.71,384.21 759.72,386.41 762.82,388.59 766.42,391 770.2,393.38 774.1,395.72 778.1,398.03 782.14,400.29 786.19,402.51 790.21,404.68 794.16,406.8 797.86,408.75 801.56,410.63 805.26,412.45 808.95,414.24 812.63,416.01 816.32,417.77 820.01,419.54 823.7,421.34" fill="none" stroke="#000" stroke-opacity="0.78" stroke-width="1.05" stroke-linejoin="round"/>
<polyline points="823.7,136.96 807.05,150.26 761.44,186.68 747.65,204.89 737.82,223.1 732.21,241.31 729.4,259.52 725.66,277.73 720.99,295.94 721.13,298.43 721.21,300.94 721.26,303.45 721.32,305.96 721.44,308.46 721.66,310.93 722.03,313.36 722.59,315.75 723.35,318.13 724.26,320.47 725.31,322.78 726.47,325.06 727.73,327.32 729.07,329.55 730.48,331.76 731.95,333.96 733.62,336.32 735.41,338.66 737.3,340.97 739.28,343.25 741.34,345.51 743.46,347.75 745.64,349.97 747.85,352.17 750.28,354.53 752.76,356.88 755.31,359.21 757.93,361.51 760.63,363.78 763.43,366.02 766.34,368.22 769.37,370.38 773.1,372.83 777.11,375.26 781.31,377.65 785.61,379.99 789.93,382.27 794.18,384.47 798.27,386.58 802.11,388.59 805.01,390.11 807.8,391.55 810.51,392.93 813.17,394.25 815.79,395.56 818.4,396.85 821.03,398.16 823.7,399.5" fill="none" stroke="#000" stroke-opacity="0.78" stroke-width="1.05" stroke-linejoin="round"/>
<polyline points="823.7,148.52 820.8,150.26 775.57,186.68 762.15,204.89 753.26,223.1 748.58,241.31 746.24,259.52 742.5,277.73 738.76,295.94 739.2,298.43 739.56,300.95 739.89,303.47 740.24,305.99 740.64,308.49 741.16,310.96 741.83,313.39 742.7,315.75 743.83,318.16 745.11,320.53 746.55,322.85 748.11,325.13 749.79,327.38 751.56,329.6 753.42,331.79 755.33,333.96 757.58,336.36 759.95,338.72 762.45,341.04 765.06,343.33 767.76,345.59 770.56,347.81 773.44,350 776.38,352.17 779.9,354.62 783.68,357.09 787.63,359.54 791.66,361.94 795.68,364.26 799.6,366.46 803.33,368.51 806.78,370.38 809.11,371.6 811.32,372.72 813.45,373.75 815.52,374.72 817.55,375.66 819.57,376.59 821.62,377.54 823.7,378.52" fill="none" stroke="#000" stroke-opacity="0.78" stroke-width="1.05" stroke-linejoin="round"/>
<polyline points="823.7,160.94 790.12,186.68 777.11,204.89 769.16,223.1 764.95,241.31 763.08,259.52 760.27,277.73 758.22,295.94 759.03,298.43 759.77,300.96 760.48,303.49 761.21,306.02 762,308.52 762.89,310.99 763.92,313.4 765.16,315.75 766.67,318.2 768.32,320.59 770.12,322.93 772.05,325.23 774.11,327.48 776.31,329.68 778.62,331.84 781.06,333.96 784.32,336.5 788,339.04 791.95,341.54 796.05,343.96 800.14,346.27 804.09,348.44 807.75,350.41 810.99,352.17 812.82,353.15 814.52,354.02 816.12,354.81 817.65,355.54 819.15,356.25 820.64,356.94 822.15,357.65 823.7,358.4" fill="none" stroke="#000" stroke-opacity="0.78" stroke-width="1.05" stroke-linejoin="round"/>
<polyline points="823.7,173.27 805.08,186.68 792.55,204.89 786.47,223.1 782.73,241.31 781.32,259.52 780.86,277.73 779.92,295.94 780.98,298.44 781.94,300.99 782.86,303.55 783.79,306.1 784.81,308.62 785.98,311.09 787.36,313.47 789.01,315.75 791.45,318.4 794.38,321.03 797.64,323.61 801.09,326.07 804.58,328.39 807.96,330.51 811.08,332.38 813.8,333.96 815.21,334.73 816.53,335.38 817.77,335.93 818.97,336.42 820.14,336.87 821.31,337.31 822.49,337.77 823.7,338.28" fill="none" stroke="#000" stroke-opacity="0.78" stroke-width="1.05" stroke-linejoin="round"/>
<polyline points="823.7,185.52 809.85,204.89 804.24,223.1 803.31,241.31 802.84,259.52 803.77,277.73 804.71,295.94 806.52,298.59 808.38,301.5 810.26,304.52 812.13,307.48 813.96,310.23 815.73,312.63 817.4,314.52 818.95,315.75 819.58,316.05 820.2,316.22 820.8,316.29 821.38,316.29 821.96,316.24 822.53,316.19 823.11,316.16 823.7,316.18" fill="none" stroke="#000" stroke-opacity="0.78" stroke-width="1.05" stroke-linejoin="round"/>
<path d="M80.4 41V769.4M173.31 41V769.4M303.39 41V769.4M433.47 41V769.4M563.55 41V769.4M693.62 41V769.4M823.7 41V769.4M80.4 769.4H823.7M80.4 678.35H823.7M80.4 550.88H823.7M80.4 423.41H823.7M80.4 295.94H823.7M80.4 168.47H823.7M80.4 41H823.7" stroke="#000" stroke-opacity="0.02" stroke-width="1.3" fill="none"/>
</g>
<path d="M173.31 41v7.5M303.39 41v7.5M433.47 41v7.5M563.55 41v7.5M693.62 41v7.5M80.4 678.35h7.5M80.4 550.88h7.5M80.4 423.41h7.5M80.4 295.94h7.5M80.4 168.47h7.5M80.4 41L823.7 41M823.7 41L823.7 42.82M823.7 769.4L823.7 769.4M823.7 769.4L821.84 769.4M80.4 769.4L80.4 769.4M80.4 769.4L80.4 41" stroke="#262626" stroke-width="1.1" fill="none" stroke-linecap="square"/>
<path d="M173.31 769.4v-7.5M303.39 769.4v-7.5M433.47 769.4v-7.5M563.55 769.4v-7.5M693.62 769.4v-7.5M823.7 678.35h-7.5M823.7 550.88h-7.5M823.7 423.41h-7.5M823.7 295.94h-7.5M823.7 168.47h-7.5M823.7 42.82L823.7 769.4M821.84 769.4L80.4 769.4" stroke="#101030" stroke-opacity="0.55" stroke-width="1.1" fill="none"/>
<text x="79.2" y="809.4" font-size="29" text-anchor="middle">2</text>
<text x="172.11" y="809.4" font-size="29" text-anchor="middle">7</text>
<text x="302.19" y="809.4" font-size="29" text-anchor="middle">14</text>
<text x="432.27" y="809.4" font-size="29" text-anchor="middle">21</text>
<text x="562.35" y="809.4" font-size="29" text-anchor="middle">28</text>
<text x="692.42" y="809.4" font-size="29" text-anchor="middle">35</text>
<text x="822.5" y="809.4" font-size="29" text-anchor="middle">42</text>
<text x="71.4" y="781" font-size="29" text-anchor="end">2</text>
<text x="71.4" y="689.95" font-size="29" text-anchor="end">7</text>
<text x="71.4" y="562.48" font-size="29" text-anchor="end">14</text>
<text x="71.4" y="435.01" font-size="29" text-anchor="end">21</text>
<text x="71.4" y="307.54" font-size="29" text-anchor="end">28</text>
<text x="71.4" y="180.07" font-size="29" text-anchor="end">35</text>
<text x="71.4" y="52.6" font-size="29" text-anchor="end">42</text>
<text x="433.45" y="852" font-size="33" text-anchor="middle">Week of surgery</text>
<text transform="translate(25.8 424) rotate(-90)" font-size="33" text-anchor="middle">Week of implantation</text>
<text x="433.55" y="26.3" font-size="33" font-weight="bold" class="tt" text-anchor="middle">Short Distance Scenario</text>
<text x="569" y="584.3" font-size="28" fill="#fff" text-anchor="middle" class="cl">0.1</text>
<text x="620.7" y="558.3" font-size="28" fill="#fff" text-anchor="middle" class="cl">0.2</text>
<text x="656" y="532.3" font-size="28" fill="#fff" text-anchor="middle" class="cl">0.3</text>
<text x="676.6" y="506.8" font-size="28" fill="#fff" text-anchor="middle" class="cl">0.4</text>
<text x="692" y="481.1" font-size="28" fill="#fff" text-anchor="middle" class="cl">0.5</text>
<text x="705.8" y="455.3" font-size="28" fill="#fff" text-anchor="middle" class="cl">0.6</text>
<text x="713.5" y="429.8" font-size="28" fill="#fff" text-anchor="middle" class="cl">0.7</text>
<text x="720" y="404.8" font-size="28" fill="#fff" text-anchor="middle" class="cl">0.8</text>
<text x="723" y="379.3" font-size="28" fill="#fff" text-anchor="middle" class="cl">0.9</text>
<text x="726" y="353.8" font-size="28" fill="#fff" text-anchor="middle" class="cl">1.0</text>
<text x="729" y="328.3" font-size="28" fill="#fff" text-anchor="middle" class="cl">1.1</text>
<text x="739" y="302.3" font-size="28" fill="#fff" text-anchor="middle" class="cl">1.2</text>
<text x="760" y="276.8" font-size="28" fill="#fff" text-anchor="middle" class="cl">1.3</text>
<text x="783" y="251.3" font-size="28" fill="#fff" text-anchor="middle" class="cl">1.4</text>
<text x="803.5" y="225.8" font-size="28" fill="#fff" text-anchor="middle" class="cl">1.5</text>
<clipPath id="clipP2"><rect x="1125.5" y="41" width="278.1" height="723"/></clipPath>
<clipPath id="clipP2d"><polygon points="1125.5,168.59 1244.69,41 1403.6,41 1403.6,764 1125.5,764"/></clipPath>
<g clip-path="url(#clipP2)">
<path d="M1165.23 41V764M1204.96 41V764M1244.69 41V764M1284.41 41V764M1324.14 41V764M1363.87 41V764M1125.5 764H1403.6M1125.5 678.94H1403.6M1125.5 636.41H1403.6M1125.5 593.88H1403.6M1125.5 551.35H1403.6M1125.5 508.82H1403.6M1125.5 466.29H1403.6M1125.5 381.24H1403.6M1125.5 338.71H1403.6M1125.5 296.18H1403.6M1125.5 253.65H1403.6M1125.5 211.12H1403.6M1125.5 168.59H1403.6M1125.5 83.53H1403.6M1125.5 41H1403.6" stroke="#000" stroke-opacity="0.05" stroke-width="1.2" fill="none"/>
<path d="M1125.5 41V764M1403.6 41V764M1125.5 721.47H1403.6M1125.5 423.76H1403.6M1125.5 126.06H1403.6" stroke="#000" stroke-opacity="0.13" stroke-width="1.3" fill="none"/>
</g>
<g clip-path="url(#clipP2d)">
<polygon points="1125.5,168.59 1244.69,41 1403.6,41 1403.6,764 1125.5,764" fill="#484cef"/>
<polygon points="1264,41 1181.4,126.06 1125.5,180 1065.5,180 1065.5,824 1463.6,824 1463.6,-19 1264,-19" fill="#4562fc"/>
<polygon points="1280,41 1199,126.06 1125.5,198.5 1065.5,198.5 1065.5,824 1463.6,824 1463.6,-19 1280,-19" fill="#347afd"/>
<polygon points="1304,41 1220.9,126.06 1135.1,211.12 1125.5,220 1065.5,220 1065.5,824 1463.6,824 1463.6,-19 1304,-19" fill="#2c90f0"/>
<polygon points="1327,41 1241,126.06 1153.6,211.12 1125.5,249 1065.5,249 1065.5,824 1463.6,824 1463.6,-19 1327,-19" fill="#21a3e3"/>
<polygon points="1351,41 1262,126.06 1175.5,211.12 1148,253.65 1125.5,292 1095.5,498 1125.5,704 1127.16,706.13 1128.79,708.17 1130.4,710.18 1132.02,712.21 1133.67,714.3 1135.36,716.51 1137.14,718.88 1139,721.47 1142.03,725.86 1145.28,730.74 1148.69,736 1152.22,741.53 1155.81,747.2 1159.43,752.91 1163,758.55 1166.5,764 1166.5,824 1463.6,824 1463.6,-19 1351,-19" fill="#0cb3d3"/>
<polygon points="1375,41 1285.6,126.06 1198.2,211.12 1167,253.65 1148,296.18 1131,338.71 1125.5,354 1095.5,489 1125.5,624 1126.02,625.51 1126.48,626.95 1126.91,628.38 1127.36,629.81 1127.85,631.29 1128.43,632.86 1129.14,634.56 1130,636.41 1132.18,640.58 1134.9,645.39 1138.07,650.67 1141.58,656.29 1145.33,662.07 1149.22,667.88 1153.14,673.55 1157,678.94 1161.06,684.37 1165.29,689.75 1169.64,695.09 1174.1,700.4 1178.64,705.69 1183.24,710.96 1187.87,716.22 1192.5,721.47 1197.28,726.84 1202.15,732.17 1207.08,737.49 1212.05,742.8 1217.05,748.1 1222.05,753.39 1227.04,758.69 1232,764 1232,824 1463.6,824 1463.6,-19 1375,-19" fill="#12beb9"/>
<polygon points="1400,41 1310.8,126.06 1221.7,211.12 1190,253.65 1169,296.18 1154,338.71 1143,381.24 1133,423.76 1125.5,441 1095.5,486 1125.5,531 1126.28,533.5 1127.02,535.93 1127.73,538.33 1128.46,540.74 1129.22,543.21 1130.05,545.78 1130.96,548.48 1132,551.35 1133.72,555.96 1135.61,560.97 1137.68,566.28 1139.89,571.79 1142.25,577.4 1144.72,583.02 1147.31,588.55 1150,593.88 1152.93,599.3 1156,604.7 1159.2,610.06 1162.54,615.39 1165.99,620.7 1169.56,625.97 1173.23,631.21 1177,636.41 1181.08,641.85 1185.28,647.26 1189.61,652.63 1194.06,657.96 1198.63,663.26 1203.31,668.53 1208.1,673.75 1213,678.94 1218.33,684.4 1223.81,689.8 1229.42,695.17 1235.16,700.49 1241,705.78 1246.93,711.03 1252.94,716.26 1259,721.47 1265.47,726.89 1272.08,732.25 1278.81,737.57 1285.63,742.86 1292.49,748.14 1299.36,753.42 1306.21,758.7 1313,764 1313,824 1463.6,824 1463.6,-19 1400,-19" fill="#34c79c"/>
<polygon points="1403.6,68 1338.6,126.06 1244.4,211.12 1214,253.65 1192,296.18 1179,338.71 1171,381.24 1162,423.76 1150,466.29 1150.56,471.62 1151.03,476.95 1151.46,482.29 1151.91,487.63 1152.43,492.95 1153.08,498.27 1153.92,503.56 1155,508.82 1156.34,514.2 1157.86,519.57 1159.55,524.93 1161.38,530.26 1163.36,535.57 1165.46,540.86 1167.68,546.12 1170,551.35 1172.54,556.77 1175.21,562.16 1178.02,567.53 1180.97,572.86 1184.04,578.17 1187.24,583.45 1190.56,588.68 1194,593.88 1197.76,599.34 1201.64,604.76 1205.67,610.15 1209.83,615.5 1214.14,620.81 1218.6,626.06 1223.22,631.27 1228,636.41 1233.37,641.94 1238.92,647.4 1244.64,652.82 1250.55,658.17 1256.64,663.46 1262.92,668.68 1269.37,673.85 1276,678.94 1283.71,684.53 1291.81,690.02 1300.2,695.43 1308.79,700.77 1317.46,706.03 1326.12,711.23 1334.67,716.38 1343,721.47 1350.7,726.21 1358.33,730.85 1365.91,735.43 1373.46,739.96 1380.99,744.46 1388.51,748.95 1396.04,753.46 1403.6,758 1463.6,758 1463.6,68" fill="#5ccc76"/>
<polygon points="1403.6,95 1368,126.06 1270.5,211.12 1241,253.65 1220,296.18 1208,338.71 1202,381.24 1194,423.76 1184,466.29 1184.66,471.62 1185.2,476.97 1185.69,482.32 1186.2,487.67 1186.81,493.01 1187.6,498.32 1188.64,503.59 1190,508.82 1191.75,514.26 1193.75,519.66 1195.98,525.05 1198.43,530.39 1201.07,535.71 1203.89,540.97 1206.87,546.19 1210,551.35 1213.57,556.85 1217.39,562.29 1221.43,567.67 1225.66,573 1230.05,578.29 1234.59,583.52 1239.25,588.72 1244,593.88 1249.18,599.39 1254.47,604.86 1259.9,610.28 1265.5,615.66 1271.28,620.97 1277.27,626.2 1283.5,631.36 1290,636.41 1297.98,642.09 1306.59,647.69 1315.63,653.19 1324.9,658.59 1334.17,663.87 1343.26,669.03 1351.93,674.06 1360,678.94 1365.96,682.69 1371.65,686.32 1377.13,689.84 1382.47,693.29 1387.72,696.7 1392.95,700.11 1398.22,703.53 1403.6,707 1463.6,707 1463.6,95" fill="#94ca4a"/>
<polygon points="1403.6,122 1397.4,126.06 1300.7,211.12 1272,253.65 1253,296.18 1243,338.71 1238,381.24 1230,423.76 1222,466.29 1223.28,471.63 1224.43,476.99 1225.52,482.36 1226.64,487.73 1227.87,493.07 1229.28,498.38 1230.97,503.64 1233,508.82 1235.53,514.32 1238.34,519.77 1241.41,525.17 1244.71,530.53 1248.24,535.83 1251.97,541.07 1255.9,546.25 1260,551.35 1264.78,556.93 1269.85,562.43 1275.17,567.85 1280.74,573.19 1286.53,578.46 1292.51,583.67 1298.68,588.81 1305,593.88 1312.53,599.56 1320.66,605.23 1329.17,610.86 1337.86,616.39 1346.49,621.76 1354.87,626.92 1362.78,631.82 1370,636.41 1374.72,639.47 1379.16,642.33 1383.4,645.05 1387.48,647.67 1391.48,650.23 1395.45,652.78 1399.47,655.35 1403.6,658 1463.6,658 1463.6,122" fill="#c8c129"/>
<polygon points="1403.6,151 1331.8,211.12 1304,253.65 1287,296.18 1278,338.71 1274,381.24 1268,423.76 1263.6,466.29 1265.68,471.63 1267.64,477 1269.54,482.39 1271.47,487.77 1273.5,493.12 1275.72,498.42 1278.19,503.67 1281,508.82 1284.37,514.37 1287.97,519.88 1291.8,525.33 1295.88,530.72 1300.23,536.03 1304.85,541.24 1309.77,546.36 1315,551.35 1321.98,557.21 1329.91,563.03 1338.45,568.76 1347.29,574.32 1356.09,579.68 1364.53,584.76 1372.27,589.52 1379,593.88 1382.64,596.37 1385.98,598.67 1389.09,600.83 1392.04,602.89 1394.89,604.9 1397.73,606.89 1400.61,608.91 1403.6,611 1463.6,611 1463.6,151" fill="#f1ba37"/>
<polygon points="1403.6,179.8 1363.8,211.12 1337,253.65 1324,296.18 1316,338.71 1313,381.24 1312,423.76 1310,466.29 1312.61,471.65 1315.02,477.07 1317.35,482.52 1319.72,487.95 1322.25,493.33 1325.06,498.63 1328.27,503.81 1332,508.82 1337.41,514.74 1343.82,520.69 1350.89,526.57 1358.32,532.27 1365.77,537.7 1372.91,542.76 1379.43,547.35 1385,551.35 1387.74,553.35 1390.26,555.12 1392.61,556.73 1394.84,558.22 1397.01,559.64 1399.15,561.04 1401.33,562.48 1403.6,564 1463.6,564 1463.6,179.8" fill="#feca33"/>
<polygon points="1403.6,208.4 1374,253.65 1362,296.18 1360,338.71 1359,381.24 1361,423.76 1363,466.29 1367.26,471.94 1371.71,478.05 1376.24,484.35 1380.73,490.56 1385.07,496.39 1389.14,501.57 1392.82,505.8 1396,508.82 1397.1,509.63 1398.12,510.24 1399.08,510.71 1399.99,511.08 1400.89,511.39 1401.77,511.68 1402.67,512 1403.6,512.4 1463.6,512.4 1463.6,208.4" fill="#f5e327"/>
<polyline points="1264,41 1181.4,126.06 1125.5,180" fill="none" stroke="#000" stroke-opacity="0.78" stroke-width="1.05" stroke-linejoin="round"/>
<polyline points="1280,41 1199,126.06 1125.5,198.5" fill="none" stroke="#000" stroke-opacity="0.78" stroke-width="1.05" stroke-linejoin="round"/>
<polyline points="1304,41 1220.9,126.06 1135.1,211.12 1125.5,220" fill="none" stroke="#000" stroke-opacity="0.78" stroke-width="1.05" stroke-linejoin="round"/>
<polyline points="1327,41 1241,126.06 1153.6,211.12 1125.5,249" fill="none" stroke="#000" stroke-opacity="0.78" stroke-width="1.05" stroke-linejoin="round"/>
<polyline points="1351,41 1262,126.06 1175.5,211.12 1148,253.65 1125.5,292 1095.5,498 1125.5,704 1127.16,706.13 1128.79,708.17 1130.4,710.18 1132.02,712.21 1133.67,714.3 1135.36,716.51 1137.14,718.88 1139,721.47 1142.03,725.86 1145.28,730.74 1148.69,736 1152.22,741.53 1155.81,747.2 1159.43,752.91 1163,758.55 1166.5,764" fill="none" stroke="#000" stroke-opacity="0.78" stroke-width="1.05" stroke-linejoin="round"/>
<polyline points="1375,41 1285.6,126.06 1198.2,211.12 1167,253.65 1148,296.18 1131,338.71 1125.5,354 1095.5,489 1125.5,624 1126.02,625.51 1126.48,626.95 1126.91,628.38 1127.36,629.81 1127.85,631.29 1128.43,632.86 1129.14,634.56 1130,636.41 1132.18,640.58 1134.9,645.39 1138.07,650.67 1141.58,656.29 1145.33,662.07 1149.22,667.88 1153.14,673.55 1157,678.94 1161.06,684.37 1165.29,689.75 1169.64,695.09 1174.1,700.4 1178.64,705.69 1183.24,710.96 1187.87,716.22 1192.5,721.47 1197.28,726.84 1202.15,732.17 1207.08,737.49 1212.05,742.8 1217.05,748.1 1222.05,753.39 1227.04,758.69 1232,764" fill="none" stroke="#000" stroke-opacity="0.78" stroke-width="1.05" stroke-linejoin="round"/>
<polyline points="1400,41 1310.8,126.06 1221.7,211.12 1190,253.65 1169,296.18 1154,338.71 1143,381.24 1133,423.76 1125.5,441 1095.5,486 1125.5,531 1126.28,533.5 1127.02,535.93 1127.73,538.33 1128.46,540.74 1129.22,543.21 1130.05,545.78 1130.96,548.48 1132,551.35 1133.72,555.96 1135.61,560.97 1137.68,566.28 1139.89,571.79 1142.25,577.4 1144.72,583.02 1147.31,588.55 1150,593.88 1152.93,599.3 1156,604.7 1159.2,610.06 1162.54,615.39 1165.99,620.7 1169.56,625.97 1173.23,631.21 1177,636.41 1181.08,641.85 1185.28,647.26 1189.61,652.63 1194.06,657.96 1198.63,663.26 1203.31,668.53 1208.1,673.75 1213,678.94 1218.33,684.4 1223.81,689.8 1229.42,695.17 1235.16,700.49 1241,705.78 1246.93,711.03 1252.94,716.26 1259,721.47 1265.47,726.89 1272.08,732.25 1278.81,737.57 1285.63,742.86 1292.49,748.14 1299.36,753.42 1306.21,758.7 1313,764" fill="none" stroke="#000" stroke-opacity="0.78" stroke-width="1.05" stroke-linejoin="round"/>
<polyline points="1403.6,68 1338.6,126.06 1244.4,211.12 1214,253.65 1192,296.18 1179,338.71 1171,381.24 1162,423.76 1150,466.29 1150.56,471.62 1151.03,476.95 1151.46,482.29 1151.91,487.63 1152.43,492.95 1153.08,498.27 1153.92,503.56 1155,508.82 1156.34,514.2 1157.86,519.57 1159.55,524.93 1161.38,530.26 1163.36,535.57 1165.46,540.86 1167.68,546.12 1170,551.35 1172.54,556.77 1175.21,562.16 1178.02,567.53 1180.97,572.86 1184.04,578.17 1187.24,583.45 1190.56,588.68 1194,593.88 1197.76,599.34 1201.64,604.76 1205.67,610.15 1209.83,615.5 1214.14,620.81 1218.6,626.06 1223.22,631.27 1228,636.41 1233.37,641.94 1238.92,647.4 1244.64,652.82 1250.55,658.17 1256.64,663.46 1262.92,668.68 1269.37,673.85 1276,678.94 1283.71,684.53 1291.81,690.02 1300.2,695.43 1308.79,700.77 1317.46,706.03 1326.12,711.23 1334.67,716.38 1343,721.47 1350.7,726.21 1358.33,730.85 1365.91,735.43 1373.46,739.96 1380.99,744.46 1388.51,748.95 1396.04,753.46 1403.6,758" fill="none" stroke="#000" stroke-opacity="0.78" stroke-width="1.05" stroke-linejoin="round"/>
<polyline points="1403.6,95 1368,126.06 1270.5,211.12 1241,253.65 1220,296.18 1208,338.71 1202,381.24 1194,423.76 1184,466.29 1184.66,471.62 1185.2,476.97 1185.69,482.32 1186.2,487.67 1186.81,493.01 1187.6,498.32 1188.64,503.59 1190,508.82 1191.75,514.26 1193.75,519.66 1195.98,525.05 1198.43,530.39 1201.07,535.71 1203.89,540.97 1206.87,546.19 1210,551.35 1213.57,556.85 1217.39,562.29 1221.43,567.67 1225.66,573 1230.05,578.29 1234.59,583.52 1239.25,588.72 1244,593.88 1249.18,599.39 1254.47,604.86 1259.9,610.28 1265.5,615.66 1271.28,620.97 1277.27,626.2 1283.5,631.36 1290,636.41 1297.98,642.09 1306.59,647.69 1315.63,653.19 1324.9,658.59 1334.17,663.87 1343.26,669.03 1351.93,674.06 1360,678.94 1365.96,682.69 1371.65,686.32 1377.13,689.84 1382.47,693.29 1387.72,696.7 1392.95,700.11 1398.22,703.53 1403.6,707" fill="none" stroke="#000" stroke-opacity="0.78" stroke-width="1.05" stroke-linejoin="round"/>
<polyline points="1403.6,122 1397.4,126.06 1300.7,211.12 1272,253.65 1253,296.18 1243,338.71 1238,381.24 1230,423.76 1222,466.29 1223.28,471.63 1224.43,476.99 1225.52,482.36 1226.64,487.73 1227.87,493.07 1229.28,498.38 1230.97,503.64 1233,508.82 1235.53,514.32 1238.34,519.77 1241.41,525.17 1244.71,530.53 1248.24,535.83 1251.97,541.07 1255.9,546.25 1260,551.35 1264.78,556.93 1269.85,562.43 1275.17,567.85 1280.74,573.19 1286.53,578.46 1292.51,583.67 1298.68,588.81 1305,593.88 1312.53,599.56 1320.66,605.23 1329.17,610.86 1337.86,616.39 1346.49,621.76 1354.87,626.92 1362.78,631.82 1370,636.41 1374.72,639.47 1379.16,642.33 1383.4,645.05 1387.48,647.67 1391.48,650.23 1395.45,652.78 1399.47,655.35 1403.6,658" fill="none" stroke="#000" stroke-opacity="0.78" stroke-width="1.05" stroke-linejoin="round"/>
<polyline points="1403.6,151 1331.8,211.12 1304,253.65 1287,296.18 1278,338.71 1274,381.24 1268,423.76 1263.6,466.29 1265.68,471.63 1267.64,477 1269.54,482.39 1271.47,487.77 1273.5,493.12 1275.72,498.42 1278.19,503.67 1281,508.82 1284.37,514.37 1287.97,519.88 1291.8,525.33 1295.88,530.72 1300.23,536.03 1304.85,541.24 1309.77,546.36 1315,551.35 1321.98,557.21 1329.91,563.03 1338.45,568.76 1347.29,574.32 1356.09,579.68 1364.53,584.76 1372.27,589.52 1379,593.88 1382.64,596.37 1385.98,598.67 1389.09,600.83 1392.04,602.89 1394.89,604.9 1397.73,606.89 1400.61,608.91 1403.6,611" fill="none" stroke="#000" stroke-opacity="0.78" stroke-width="1.05" stroke-linejoin="round"/>
<polyline points="1403.6,179.8 1363.8,211.12 1337,253.65 1324,296.18 1316,338.71 1313,381.24 1312,423.76 1310,466.29 1312.61,471.65 1315.02,477.07 1317.35,482.52 1319.72,487.95 1322.25,493.33 1325.06,498.63 1328.27,503.81 1332,508.82 1337.41,514.74 1343.82,520.69 1350.89,526.57 1358.32,532.27 1365.77,537.7 1372.91,542.76 1379.43,547.35 1385,551.35 1387.74,553.35 1390.26,555.12 1392.61,556.73 1394.84,558.22 1397.01,559.64 1399.15,561.04 1401.33,562.48 1403.6,564" fill="none" stroke="#000" stroke-opacity="0.78" stroke-width="1.05" stroke-linejoin="round"/>
<polyline points="1403.6,208.4 1374,253.65 1362,296.18 1360,338.71 1359,381.24 1361,423.76 1363,466.29 1367.26,471.94 1371.71,478.05 1376.24,484.35 1380.73,490.56 1385.07,496.39 1389.14,501.57 1392.82,505.8 1396,508.82 1397.1,509.63 1398.12,510.24 1399.08,510.71 1399.99,511.08 1400.89,511.39 1401.77,511.68 1402.67,512 1403.6,512.4" fill="none" stroke="#000" stroke-opacity="0.78" stroke-width="1.05" stroke-linejoin="round"/>
<path d="M1165.23 41V764M1204.96 41V764M1244.69 41V764M1284.41 41V764M1324.14 41V764M1363.87 41V764M1125.5 764H1403.6M1125.5 678.94H1403.6M1125.5 636.41H1403.6M1125.5 593.88H1403.6M1125.5 551.35H1403.6M1125.5 508.82H1403.6M1125.5 466.29H1403.6M1125.5 381.24H1403.6M1125.5 338.71H1403.6M1125.5 296.18H1403.6M1125.5 253.65H1403.6M1125.5 211.12H1403.6M1125.5 168.59H1403.6M1125.5 83.53H1403.6M1125.5 41H1403.6" stroke="#000" stroke-opacity="0.03" stroke-width="1.2" fill="none"/>
<path d="M1125.5 41V764M1403.6 41V764M1125.5 721.47H1403.6M1125.5 423.76H1403.6M1125.5 126.06H1403.6" stroke="#000" stroke-opacity="0.13" stroke-width="1.3" fill="none"/>
</g>
<path d="M1125.5 126.06h7.5M1125.5 41L1243.69 41M1403.6 41L1403.6 41M1403.6 764L1403.6 764M1403.6 764L1402.9 764M1125.5 764L1125.5 762.19M1125.5 165.72L1125.5 41" stroke="#262626" stroke-width="1.1" fill="none" stroke-linecap="square"/>
<path d="M1125.5 721.47h7.5M1403.6 721.47h-7.5M1125.5 423.76h7.5M1403.6 423.76h-7.5M1403.6 126.06h-7.5M1243.69 41L1403.6 41M1403.6 41L1403.6 764M1402.9 764L1125.5 764M1125.5 762.19L1125.5 165.72" stroke="#101030" stroke-opacity="0.55" stroke-width="1.1" fill="none"/>
<text x="1124.3" y="804" font-size="29" text-anchor="middle">35</text>
<text x="1402.4" y="804" font-size="29" text-anchor="middle">42</text>
<text x="1116.5" y="733.07" font-size="29" text-anchor="end">21</text>
<text x="1116.5" y="435.36" font-size="29" text-anchor="end">28</text>
<text x="1116.5" y="137.66" font-size="29" text-anchor="end">35</text>
<text x="1264.15" y="846.2" font-size="33" text-anchor="middle">Week of surgery</text>
<text transform="translate(1071.9 424) rotate(-90)" font-size="33" text-anchor="middle">Week of implantation</text>
<text x="1264.95" y="26.3" font-size="33" font-weight="bold" class="tt" text-anchor="middle">Detailed</text>
<text x="1158" y="752.8" font-size="28" fill="#fff" text-anchor="middle" class="cl">0.7</text>
<text x="1191.6" y="720.8" font-size="28" fill="#fff" text-anchor="middle" class="cl">0.8</text>
<text x="1222.4" y="688.8" font-size="28" fill="#fff" text-anchor="middle" class="cl">0.9</text>
<text x="1250" y="656.3" font-size="28" fill="#fff" text-anchor="middle" class="cl">1.0</text>
<text x="1276" y="623.2" font-size="28" fill="#fff" text-anchor="middle" class="cl">1.1</text>
<text x="1302" y="591.8" font-size="28" fill="#fff" text-anchor="middle" class="cl">1.2</text>
<text x="1327.6" y="560.8" font-size="28" fill="#fff" text-anchor="middle" class="cl">1.3</text>
<text x="1354.4" y="527.2" font-size="28" fill="#fff" text-anchor="middle" class="cl">1.4</text>
<text x="1382.4" y="492.8" font-size="28" fill="#fff" text-anchor="middle" class="cl">1.5</text>
<clipPath id="clipP3"><rect x="80.4" y="938.3" width="743.3" height="728.4"/></clipPath>
<clipPath id="clipP3d"><polygon points="80.4,1666.7 823.7,938.3 823.7,1666.7"/></clipPath>
<g clip-path="url(#clipP3)">
<path d="M98.98 938.3V1666.7M117.57 938.3V1666.7M136.15 938.3V1666.7M154.73 938.3V1666.7M191.9 938.3V1666.7M210.48 938.3V1666.7M229.06 938.3V1666.7M247.64 938.3V1666.7M266.23 938.3V1666.7M284.81 938.3V1666.7M321.97 938.3V1666.7M340.56 938.3V1666.7M359.14 938.3V1666.7M377.72 938.3V1666.7M396.3 938.3V1666.7M414.88 938.3V1666.7M452.05 938.3V1666.7M470.63 938.3V1666.7M489.22 938.3V1666.7M507.8 938.3V1666.7M526.38 938.3V1666.7M544.96 938.3V1666.7M582.13 938.3V1666.7M600.71 938.3V1666.7M619.29 938.3V1666.7M637.88 938.3V1666.7M656.46 938.3V1666.7M675.04 938.3V1666.7M712.21 938.3V1666.7M730.79 938.3V1666.7M749.37 938.3V1666.7M767.95 938.3V1666.7M786.53 938.3V1666.7M805.12 938.3V1666.7M80.4 1648.49H823.7M80.4 1630.28H823.7M80.4 1612.07H823.7M80.4 1593.86H823.7M80.4 1557.44H823.7M80.4 1539.23H823.7M80.4 1521.02H823.7M80.4 1502.81H823.7M80.4 1484.6H823.7M80.4 1466.39H823.7M80.4 1429.97H823.7M80.4 1411.76H823.7M80.4 1393.55H823.7M80.4 1375.34H823.7M80.4 1357.13H823.7M80.4 1338.92H823.7M80.4 1302.5H823.7M80.4 1284.29H823.7M80.4 1266.08H823.7M80.4 1247.87H823.7M80.4 1229.66H823.7M80.4 1211.45H823.7M80.4 1175.03H823.7M80.4 1156.82H823.7M80.4 1138.61H823.7M80.4 1120.4H823.7M80.4 1102.19H823.7M80.4 1083.98H823.7M80.4 1047.56H823.7M80.4 1029.35H823.7M80.4 1011.14H823.7M80.4 992.93H823.7M80.4 974.72H823.7M80.4 956.51H823.7" stroke="#000" stroke-opacity="0.05" stroke-width="1.2" fill="none"/>
<path d="M80.4 938.3V1666.7M173.31 938.3V1666.7M303.39 938.3V1666.7M433.47 938.3V1666.7M563.55 938.3V1666.7M693.62 938.3V1666.7M823.7 938.3V1666.7M80.4 1666.7H823.7M80.4 1575.65H823.7M80.4 1448.18H823.7M80.4 1320.71H823.7M80.4 1193.24H823.7M80.4 1065.77H823.7M80.4 938.3H823.7" stroke="#000" stroke-opacity="0.13" stroke-width="1.3" fill="none"/>
</g>
<g clip-path="url(#clipP3d)">
<polygon points="80.4,1666.7 823.7,938.3 823.7,1666.7" fill="#3e26a8"/>
<polygon points="654.8,1103.7 654.18,1105.13 653.55,1106.58 652.91,1108.03 652.28,1109.48 651.66,1110.92 651.05,1112.34 650.46,1113.74 649.9,1115.1 649.44,1116.24 649,1117.33 648.58,1118.39 648.17,1119.44 647.76,1120.51 647.35,1121.61 646.93,1122.76 646.5,1124 645.88,1125.74 645.23,1127.56 644.55,1129.45 643.87,1131.41 643.2,1133.45 642.58,1135.56 642,1137.75 641.5,1140 640.97,1143.03 640.54,1146.28 640.18,1149.67 639.89,1153.17 639.64,1156.7 639.42,1160.22 639.21,1163.68 639,1167 638.8,1169.94 638.62,1172.81 638.46,1175.62 638.31,1178.42 638.19,1181.23 638.1,1184.08 638.03,1186.99 638,1190 638,1193.51 638.03,1197.04 638.1,1200.63 638.2,1204.28 638.34,1208.02 638.52,1211.88 638.74,1215.86 639,1220 639.39,1225.69 639.83,1231.78 640.33,1238.13 640.9,1244.65 641.54,1251.21 642.27,1257.7 643.09,1264 644,1270 644.92,1275.04 645.94,1279.88 647.04,1284.59 648.2,1289.24 649.4,1293.89 650.61,1298.6 651.82,1303.45 653,1308.5 654.31,1314.58 655.59,1320.88 656.86,1327.32 658.14,1333.87 659.48,1340.46 660.88,1347.05 662.38,1353.58 664,1360 665.73,1366.36 667.56,1372.75 669.46,1379.14 671.45,1385.5 673.5,1391.79 675.61,1397.99 677.78,1404.07 680,1410 682.08,1415.26 684.23,1420.39 686.43,1425.42 688.69,1430.36 690.98,1435.27 693.3,1440.15 695.64,1445.06 698,1450 700.39,1455.02 702.8,1460.02 705.23,1465.01 707.7,1470 710.2,1474.99 712.74,1479.98 715.34,1484.98 718,1490 720.82,1495.21 723.69,1500.42 726.6,1505.62 729.57,1510.83 732.59,1516.07 735.67,1521.33 738.81,1526.64 742,1532 745.56,1537.88 749.23,1543.85 752.99,1549.87 756.81,1555.93 760.64,1561.99 764.48,1568.04 768.27,1574.05 772,1580 775.56,1585.72 779.12,1591.46 782.66,1597.18 786.19,1602.87 789.7,1608.52 793.17,1614.1 796.61,1619.6 800,1625 803.04,1629.81 806.05,1634.52 809.01,1639.15 811.96,1643.74 814.89,1648.29 817.82,1652.84 820.75,1657.4 823.7,1662 823.7,1726.7 883.7,1726.7 883.7,878.3 654.8,878.3" fill="#4536d5"/>
<polygon points="777,985.3 775.04,987.32 773.11,989.31 771.19,991.28 769.26,993.26 767.31,995.27 765.33,997.32 763.29,999.42 761.2,1001.6 758.62,1004.31 755.96,1007.13 753.22,1010.03 750.44,1013 747.63,1015.98 744.81,1018.97 741.99,1021.92 739.2,1024.8 736.44,1027.59 733.66,1030.37 730.87,1033.12 728.08,1035.87 725.29,1038.6 722.52,1041.33 719.79,1044.06 717.1,1046.8 714.52,1049.45 711.94,1052.1 709.36,1054.77 706.82,1057.43 704.32,1060.07 701.89,1062.68 699.54,1065.26 697.3,1067.8 695.46,1069.92 693.66,1072 691.92,1074.04 690.24,1076.07 688.61,1078.09 687.04,1080.13 685.54,1082.2 684.1,1084.3 682.8,1086.29 681.55,1088.27 680.34,1090.25 679.19,1092.25 678.11,1094.28 677.09,1096.38 676.16,1098.54 675.3,1100.8 674.47,1103.48 673.79,1106.32 673.23,1109.27 672.74,1112.28 672.3,1115.3 671.87,1118.29 671.41,1121.21 670.9,1124 670.4,1126.34 669.87,1128.59 669.33,1130.78 668.8,1132.95 668.28,1135.12 667.8,1137.33 667.37,1139.61 667,1142 666.65,1144.95 666.36,1148.04 666.14,1151.24 665.96,1154.49 665.83,1157.73 665.73,1160.94 665.65,1164.04 665.6,1167 665.56,1169.35 665.52,1171.57 665.5,1173.71 665.51,1175.82 665.55,1177.96 665.64,1180.16 665.79,1182.49 666,1185 666.41,1188.85 666.94,1193.03 667.58,1197.44 668.31,1202 669.12,1206.62 670.02,1211.22 670.98,1215.71 672,1220 673.03,1223.89 674.13,1227.7 675.3,1231.45 676.53,1235.16 677.83,1238.85 679.17,1242.54 680.57,1246.25 682,1250 683.58,1253.97 685.26,1257.94 687,1261.92 688.8,1265.9 690.62,1269.9 692.44,1273.91 694.24,1277.94 696,1282 697.75,1286.17 699.45,1290.32 701.14,1294.48 702.82,1298.67 704.53,1302.9 706.28,1307.19 708.1,1311.55 710,1316 712.29,1321.26 714.68,1326.68 717.16,1332.22 719.69,1337.82 722.26,1343.44 724.84,1349.05 727.43,1354.58 730,1360 732.45,1365.15 734.9,1370.29 737.36,1375.4 739.84,1380.48 742.33,1385.49 744.85,1390.43 747.41,1395.27 750,1400 752.42,1404.24 754.87,1408.38 757.34,1412.45 759.84,1416.46 762.36,1420.4 764.9,1424.3 767.44,1428.16 770,1432 772.45,1435.64 774.91,1439.24 777.39,1442.81 779.88,1446.34 782.39,1449.82 784.91,1453.26 787.45,1456.65 790,1460 792.47,1463.19 794.99,1466.4 797.54,1469.6 800.09,1472.75 802.63,1475.8 805.14,1478.72 807.61,1481.47 810,1484 811.78,1485.76 813.52,1487.39 815.24,1488.9 816.93,1490.34 818.62,1491.74 820.31,1493.13 822,1494.54 823.7,1496 883.7,1496 883.7,878.3 777,878.3" fill="#484cef"/>
<polygon points="823.7,949.5 822.79,950.43 821.88,951.34 820.99,952.25 820.09,953.16 819.18,954.08 818.25,955.03 817.3,956 816.3,957 815.03,958.28 813.7,959.6 812.34,960.97 810.94,962.37 809.52,963.78 808.1,965.2 806.69,966.61 805.3,968 803.92,969.37 802.54,970.73 801.16,972.09 799.78,973.45 798.4,974.81 797.03,976.19 795.66,977.58 794.3,979 792.91,980.48 791.53,981.98 790.15,983.5 788.78,985.03 787.41,986.57 786.04,988.11 784.67,989.66 783.3,991.2 781.91,992.75 780.51,994.3 779.11,995.85 777.72,997.41 776.32,998.97 774.94,1000.56 773.56,1002.16 772.2,1003.8 770.8,1005.54 769.41,1007.31 768.04,1009.11 766.67,1010.92 765.3,1012.75 763.94,1014.57 762.57,1016.39 761.2,1018.2 759.83,1019.99 758.45,1021.78 757.08,1023.57 755.7,1025.35 754.33,1027.14 752.95,1028.93 751.58,1030.71 750.2,1032.5 748.83,1034.29 747.46,1036.09 746.09,1037.9 744.72,1039.7 743.35,1041.49 741.97,1043.28 740.59,1045.05 739.2,1046.8 737.84,1048.49 736.47,1050.15 735.1,1051.8 733.72,1053.44 732.34,1055.08 730.96,1056.71 729.58,1058.35 728.2,1060 726.81,1061.66 725.42,1063.31 724.03,1064.95 722.63,1066.6 721.24,1068.26 719.85,1069.92 718.47,1071.6 717.1,1073.3 715.69,1075.05 714.26,1076.8 712.82,1078.57 711.39,1080.35 709.99,1082.15 708.63,1083.95 707.33,1085.77 706.1,1087.6 704.99,1089.33 703.9,1091.03 702.86,1092.73 701.86,1094.45 700.9,1096.21 700.01,1098.02 699.17,1099.91 698.4,1101.9 697.59,1104.39 696.89,1107.03 696.28,1109.79 695.74,1112.62 695.25,1115.49 694.81,1118.37 694.4,1121.22 694,1124 693.62,1126.65 693.27,1129.29 692.95,1131.92 692.67,1134.55 692.43,1137.18 692.23,1139.79 692.09,1142.4 692,1145 691.97,1147.53 691.99,1150.07 692.06,1152.61 692.17,1155.14 692.33,1157.65 692.52,1160.13 692.74,1162.59 693,1165 693.25,1167.17 693.52,1169.27 693.8,1171.32 694.13,1173.36 694.49,1175.42 694.92,1177.52 695.42,1179.71 696,1182 696.9,1185.19 697.94,1188.54 699.11,1192.01 700.37,1195.57 701.71,1199.19 703.12,1202.82 704.55,1206.44 706,1210 707.6,1213.78 709.31,1217.66 711.11,1221.58 712.94,1225.49 714.79,1229.33 716.6,1233.07 718.35,1236.64 720,1240 721.17,1242.38 722.26,1244.58 723.3,1246.66 724.33,1248.68 725.38,1250.71 726.48,1252.81 727.68,1255.06 729,1257.5 731.18,1261.44 733.61,1265.72 736.23,1270.24 738.97,1274.95 741.77,1279.75 744.59,1284.58 747.35,1289.35 750,1294 752.53,1298.53 755.02,1303.1 757.49,1307.69 759.96,1312.26 762.43,1316.8 764.92,1321.29 767.44,1325.7 770,1330 772.44,1333.93 774.9,1337.78 777.39,1341.57 779.89,1345.31 782.41,1349.01 784.94,1352.68 787.47,1356.34 790,1360 792.5,1363.62 795.03,1367.29 797.59,1370.97 800.15,1374.61 802.68,1378.18 805.19,1381.63 807.63,1384.91 810,1388 811.79,1390.25 813.55,1392.36 815.26,1394.38 816.96,1396.32 818.64,1398.23 820.32,1400.12 822,1402.04 823.7,1404 883.7,1404 883.7,949.5" fill="#4562fc"/>
<polygon points="823.7,956.5 822.79,957.6 821.89,958.69 821.01,959.77 820.12,960.86 819.21,961.96 818.28,963.06 817.32,964.17 816.3,965.3 815.05,966.63 813.72,967.97 812.35,969.33 810.94,970.7 809.52,972.08 808.09,973.48 806.68,974.88 805.3,976.3 803.91,977.77 802.52,979.25 801.14,980.74 799.77,982.25 798.39,983.77 797.02,985.3 795.66,986.85 794.3,988.4 792.91,990 791.52,991.61 790.13,993.23 788.75,994.86 787.38,996.51 786.01,998.18 784.65,999.87 783.3,1001.6 781.89,1003.46 780.49,1005.36 779.1,1007.29 777.72,1009.25 776.34,1011.22 774.96,1013.19 773.58,1015.15 772.2,1017.1 770.82,1019.02 769.44,1020.94 768.06,1022.85 766.68,1024.76 765.3,1026.67 763.93,1028.6 762.56,1030.54 761.2,1032.5 759.81,1034.52 758.43,1036.55 757.04,1038.6 755.67,1040.66 754.29,1042.72 752.93,1044.8 751.56,1046.9 750.2,1049 748.81,1051.17 747.43,1053.37 746.06,1055.58 744.68,1057.8 743.31,1060.03 741.95,1062.26 740.57,1064.49 739.2,1066.7 737.8,1068.9 736.35,1071.08 734.89,1073.26 733.44,1075.45 732.02,1077.64 730.66,1079.84 729.38,1082.06 728.2,1084.3 727.17,1086.44 726.21,1088.58 725.3,1090.73 724.46,1092.89 723.67,1095.08 722.93,1097.3 722.24,1099.57 721.6,1101.9 720.97,1104.54 720.41,1107.29 719.91,1110.12 719.48,1112.98 719.1,1115.83 718.76,1118.65 718.46,1121.38 718.2,1124 718,1126.12 717.83,1128.16 717.7,1130.16 717.59,1132.13 717.52,1134.08 717.48,1136.03 717.47,1137.99 717.5,1140 717.56,1142.11 717.65,1144.25 717.78,1146.4 717.94,1148.55 718.14,1150.7 718.38,1152.83 718.67,1154.93 719,1157 719.37,1158.95 719.78,1160.9 720.24,1162.83 720.73,1164.74 721.26,1166.62 721.82,1168.47 722.4,1170.26 723,1172 723.54,1173.45 724.09,1174.81 724.66,1176.11 725.25,1177.39 725.87,1178.69 726.54,1180.03 727.24,1181.46 728,1183 729.24,1185.47 730.64,1188.13 732.16,1190.94 733.74,1193.87 735.36,1196.88 736.97,1199.93 738.53,1202.98 740,1206 741.4,1209.16 742.71,1212.39 743.95,1215.67 745.19,1218.97 746.46,1222.28 747.82,1225.56 749.32,1228.81 751,1232 753.02,1235.32 755.23,1238.56 757.59,1241.76 760.05,1244.94 762.57,1248.12 765.1,1251.34 767.59,1254.63 770,1258 772.52,1261.72 775.02,1265.52 777.53,1269.38 780.02,1273.3 782.52,1277.23 785.01,1281.17 787.5,1285.1 790,1289 792.52,1292.92 795.08,1296.91 797.65,1300.93 800.21,1304.94 802.75,1308.89 805.24,1312.74 807.66,1316.46 810,1320 811.82,1322.72 813.58,1325.32 815.3,1327.84 816.99,1330.29 818.66,1332.7 820.33,1335.11 822,1337.53 823.7,1340 883.7,1340 883.7,956.5" fill="#347afd"/>
<polygon points="823.7,968 822.78,968.89 821.88,969.75 820.98,970.61 820.07,971.47 819.16,972.34 818.23,973.25 817.28,974.2 816.3,975.2 815.01,976.54 813.67,977.95 812.29,979.42 810.89,980.95 809.47,982.51 808.06,984.09 806.66,985.69 805.3,987.3 803.9,989 802.5,990.74 801.12,992.51 799.75,994.3 798.38,996.11 797.02,997.93 795.66,999.76 794.3,1001.6 792.91,1003.49 791.52,1005.39 790.14,1007.29 788.76,1009.22 787.38,1011.16 786.02,1013.11 784.65,1015.1 783.3,1017.1 781.89,1019.23 780.49,1021.38 779.09,1023.57 777.7,1025.77 776.32,1027.99 774.94,1030.22 773.57,1032.46 772.2,1034.7 770.8,1036.99 769.41,1039.28 768.02,1041.57 766.64,1043.88 765.26,1046.21 763.9,1048.57 762.54,1050.96 761.2,1053.4 759.77,1056.05 758.32,1058.76 756.88,1061.5 755.46,1064.28 754.06,1067.07 752.71,1069.88 751.42,1072.7 750.2,1075.5 749.06,1078.21 747.94,1080.9 746.86,1083.59 745.82,1086.3 744.86,1089.03 743.97,1091.8 743.18,1094.62 742.5,1097.5 741.9,1100.7 741.43,1104.03 741.07,1107.43 740.8,1110.87 740.61,1114.3 740.47,1117.66 740.37,1120.91 740.3,1124 740.26,1126.41 740.25,1128.72 740.27,1130.97 740.32,1133.17 740.42,1135.34 740.56,1137.53 740.76,1139.74 741,1142 741.32,1144.46 741.7,1146.94 742.14,1149.43 742.62,1151.94 743.16,1154.45 743.73,1156.97 744.35,1159.49 745,1162 745.71,1164.61 746.46,1167.23 747.25,1169.84 748.08,1172.46 748.97,1175.08 749.91,1177.71 750.92,1180.35 752,1183 753.24,1185.89 754.53,1188.76 755.89,1191.64 757.32,1194.53 758.83,1197.45 760.44,1200.4 762.16,1203.42 764,1206.5 766.53,1210.48 769.32,1214.6 772.31,1218.81 775.43,1223.09 778.62,1227.38 781.83,1231.66 784.97,1235.88 788,1240 790.82,1243.88 793.68,1247.78 796.54,1251.68 799.38,1255.53 802.17,1259.32 804.89,1263.02 807.51,1266.59 810,1270 811.87,1272.58 813.66,1275.05 815.38,1277.44 817.06,1279.77 818.71,1282.06 820.35,1284.35 822.01,1286.65 823.7,1289 883.7,1289 883.7,968" fill="#2c90f0"/>
<polygon points="823.7,979.5 822.78,980.46 821.87,981.38 820.97,982.3 820.06,983.22 819.14,984.17 818.22,985.15 817.27,986.19 816.3,987.3 815,988.85 813.65,990.51 812.27,992.25 810.87,994.06 809.46,995.92 808.05,997.81 806.66,999.71 805.3,1001.6 803.89,1003.58 802.49,1005.59 801.1,1007.62 799.72,1009.68 798.35,1011.76 796.99,1013.88 795.64,1016.02 794.3,1018.2 792.89,1020.57 791.5,1023 790.12,1025.47 788.76,1027.97 787.4,1030.48 786.04,1033 784.67,1035.51 783.3,1038 781.9,1040.47 780.48,1042.92 779.04,1045.38 777.61,1047.83 776.2,1050.29 774.81,1052.77 773.48,1055.27 772.2,1057.8 770.96,1060.36 769.75,1062.94 768.56,1065.54 767.41,1068.16 766.31,1070.79 765.27,1073.44 764.3,1076.11 763.4,1078.8 762.57,1081.49 761.8,1084.2 761.09,1086.93 760.44,1089.68 759.86,1092.44 759.33,1095.21 758.88,1098 758.5,1100.8 758.19,1103.68 757.97,1106.61 757.81,1109.57 757.73,1112.53 757.7,1115.48 757.72,1118.39 757.79,1121.24 757.9,1124 758.02,1126.36 758.18,1128.65 758.38,1130.89 758.61,1133.1 758.89,1135.3 759.21,1137.51 759.58,1139.73 760,1142 760.51,1144.47 761.07,1146.97 761.69,1149.49 762.35,1152.02 763.07,1154.54 763.84,1157.05 764.65,1159.54 765.5,1162 766.38,1164.42 767.29,1166.82 768.24,1169.19 769.24,1171.55 770.31,1173.9 771.44,1176.26 772.67,1178.62 774,1181 775.67,1183.72 777.49,1186.42 779.44,1189.11 781.48,1191.81 783.58,1194.54 785.72,1197.3 787.87,1200.12 790,1203 792.42,1206.39 794.92,1209.93 797.48,1213.57 800.06,1217.25 802.64,1220.89 805.17,1224.44 807.63,1227.83 810,1231 811.81,1233.35 813.56,1235.58 815.28,1237.72 816.97,1239.79 818.65,1241.83 820.32,1243.86 822,1245.91 823.7,1248 883.7,1248 883.7,979.5" fill="#21a3e3"/>
<polygon points="823.7,992 822.78,993.04 821.86,994.04 820.95,995.02 820.04,996.01 819.12,997.03 818.19,998.11 817.25,999.25 816.3,1000.5 814.97,1002.36 813.61,1004.37 812.22,1006.51 810.82,1008.75 809.41,1011.07 808.02,1013.44 806.64,1015.82 805.3,1018.2 803.88,1020.81 802.48,1023.5 801.1,1026.24 799.74,1029.02 798.38,1031.82 797.03,1034.63 795.67,1037.43 794.3,1040.2 792.9,1042.95 791.48,1045.68 790.04,1048.42 788.6,1051.16 787.19,1053.9 785.83,1056.65 784.52,1059.42 783.3,1062.2 782.17,1064.93 781.06,1067.67 780.01,1070.42 779,1073.18 778.04,1075.95 777.15,1078.73 776.34,1081.51 775.6,1084.3 774.95,1087.04 774.37,1089.82 773.85,1092.62 773.4,1095.41 773.01,1098.2 772.68,1100.95 772.41,1103.66 772.2,1106.3 772.07,1108.61 771.99,1110.88 771.96,1113.12 771.97,1115.33 772.04,1117.52 772.15,1119.69 772.3,1121.85 772.5,1124 772.72,1126.05 772.98,1128.08 773.28,1130.1 773.62,1132.11 774.01,1134.1 774.45,1136.07 774.95,1138.04 775.5,1140 776.12,1141.96 776.79,1143.88 777.52,1145.79 778.3,1147.68 779.14,1149.58 780.03,1151.51 780.99,1153.48 782,1155.5 783.34,1158.07 784.81,1160.73 786.37,1163.45 788.01,1166.21 789.71,1168.97 791.46,1171.71 793.23,1174.4 795,1177 796.77,1179.48 798.61,1181.92 800.49,1184.33 802.4,1186.7 804.32,1189.05 806.24,1191.38 808.14,1193.69 810,1196 811.74,1198.17 813.46,1200.32 815.18,1202.45 816.88,1204.56 818.59,1206.67 820.29,1208.77 821.99,1210.88 823.7,1213 883.7,1213 883.7,992" fill="#0cb3d3"/>
<polygon points="823.7,1007.5 822.77,1008.82 821.83,1010.11 820.89,1011.38 819.95,1012.66 819.02,1013.97 818.09,1015.32 817.19,1016.72 816.3,1018.2 815.28,1020.05 814.29,1021.97 813.33,1023.97 812.38,1026.03 811.44,1028.14 810.5,1030.29 809.56,1032.48 808.6,1034.7 807.49,1037.29 806.38,1039.96 805.25,1042.69 804.14,1045.47 803.02,1048.28 801.93,1051.1 800.85,1053.92 799.8,1056.7 798.76,1059.45 797.71,1062.2 796.67,1064.95 795.65,1067.71 794.67,1070.47 793.74,1073.24 792.88,1076.02 792.1,1078.8 791.4,1081.56 790.74,1084.36 790.12,1087.19 789.57,1090.02 789.09,1092.82 788.69,1095.57 788.39,1098.24 788.2,1100.8 788.13,1102.83 788.14,1104.8 788.21,1106.72 788.34,1108.6 788.52,1110.46 788.75,1112.3 789.01,1114.15 789.3,1116 789.62,1117.83 789.97,1119.64 790.36,1121.44 790.79,1123.23 791.27,1125.02 791.79,1126.83 792.37,1128.65 793,1130.5 793.79,1132.64 794.65,1134.82 795.59,1137.02 796.58,1139.24 797.63,1141.46 798.72,1143.66 799.84,1145.85 801,1148 802.23,1150.18 803.53,1152.35 804.87,1154.51 806.26,1156.66 807.67,1158.78 809.11,1160.88 810.55,1162.96 812,1165 813.41,1166.94 814.85,1168.85 816.31,1170.73 817.79,1172.59 819.27,1174.44 820.75,1176.28 822.23,1178.13 823.7,1180 883.7,1180 883.7,1007.5" fill="#12beb9"/>
<polygon points="823.7,1033 823.05,1034.58 822.41,1036.14 821.77,1037.69 821.14,1039.24 820.49,1040.81 819.84,1042.41 819.18,1044.03 818.5,1045.7 817.69,1047.64 816.84,1049.62 815.97,1051.64 815.1,1053.69 814.23,1055.77 813.4,1057.88 812.61,1060.03 811.9,1062.2 811.21,1064.58 810.57,1067.02 809.98,1069.51 809.43,1072.04 808.91,1074.57 808.42,1077.11 807.95,1079.62 807.5,1082.1 807.06,1084.49 806.61,1086.9 806.17,1089.32 805.77,1091.72 805.41,1094.1 805.11,1096.41 804.91,1098.65 804.8,1100.8 804.79,1102.45 804.82,1104.04 804.91,1105.58 805.04,1107.08 805.22,1108.57 805.44,1110.04 805.7,1111.51 806,1113 806.35,1114.52 806.75,1116.03 807.19,1117.53 807.68,1119.02 808.2,1120.52 808.77,1122.01 809.37,1123.5 810,1125 810.74,1126.64 811.54,1128.31 812.39,1130 813.28,1131.68 814.2,1133.33 815.13,1134.95 816.07,1136.51 817,1138 817.81,1139.23 818.64,1140.4 819.47,1141.53 820.32,1142.64 821.16,1143.72 822.01,1144.8 822.86,1145.89 823.7,1147 883.7,1147 883.7,1033" fill="#34c79c"/>
<polyline points="654.8,1103.7 654.18,1105.13 653.55,1106.58 652.91,1108.03 652.28,1109.48 651.66,1110.92 651.05,1112.34 650.46,1113.74 649.9,1115.1 649.44,1116.24 649,1117.33 648.58,1118.39 648.17,1119.44 647.76,1120.51 647.35,1121.61 646.93,1122.76 646.5,1124 645.88,1125.74 645.23,1127.56 644.55,1129.45 643.87,1131.41 643.2,1133.45 642.58,1135.56 642,1137.75 641.5,1140 640.97,1143.03 640.54,1146.28 640.18,1149.67 639.89,1153.17 639.64,1156.7 639.42,1160.22 639.21,1163.68 639,1167 638.8,1169.94 638.62,1172.81 638.46,1175.62 638.31,1178.42 638.19,1181.23 638.1,1184.08 638.03,1186.99 638,1190 638,1193.51 638.03,1197.04 638.1,1200.63 638.2,1204.28 638.34,1208.02 638.52,1211.88 638.74,1215.86 639,1220 639.39,1225.69 639.83,1231.78 640.33,1238.13 640.9,1244.65 641.54,1251.21 642.27,1257.7 643.09,1264 644,1270 644.92,1275.04 645.94,1279.88 647.04,1284.59 648.2,1289.24 649.4,1293.89 650.61,1298.6 651.82,1303.45 653,1308.5 654.31,1314.58 655.59,1320.88 656.86,1327.32 658.14,1333.87 659.48,1340.46 660.88,1347.05 662.38,1353.58 664,1360 665.73,1366.36 667.56,1372.75 669.46,1379.14 671.45,1385.5 673.5,1391.79 675.61,1397.99 677.78,1404.07 680,1410 682.08,1415.26 684.23,1420.39 686.43,1425.42 688.69,1430.36 690.98,1435.27 693.3,1440.15 695.64,1445.06 698,1450 700.39,1455.02 702.8,1460.02 705.23,1465.01 707.7,1470 710.2,1474.99 712.74,1479.98 715.34,1484.98 718,1490 720.82,1495.21 723.69,1500.42 726.6,1505.62 729.57,1510.83 732.59,1516.07 735.67,1521.33 738.81,1526.64 742,1532 745.56,1537.88 749.23,1543.85 752.99,1549.87 756.81,1555.93 760.64,1561.99 764.48,1568.04 768.27,1574.05 772,1580 775.56,1585.72 779.12,1591.46 782.66,1597.18 786.19,1602.87 789.7,1608.52 793.17,1614.1 796.61,1619.6 800,1625 803.04,1629.81 806.05,1634.52 809.01,1639.15 811.96,1643.74 814.89,1648.29 817.82,1652.84 820.75,1657.4 823.7,1662" fill="none" stroke="#000" stroke-opacity="0.78" stroke-width="1.05" stroke-linejoin="round"/>
<polyline points="777,985.3 775.04,987.32 773.11,989.31 771.19,991.28 769.26,993.26 767.31,995.27 765.33,997.32 763.29,999.42 761.2,1001.6 758.62,1004.31 755.96,1007.13 753.22,1010.03 750.44,1013 747.63,1015.98 744.81,1018.97 741.99,1021.92 739.2,1024.8 736.44,1027.59 733.66,1030.37 730.87,1033.12 728.08,1035.87 725.29,1038.6 722.52,1041.33 719.79,1044.06 717.1,1046.8 714.52,1049.45 711.94,1052.1 709.36,1054.77 706.82,1057.43 704.32,1060.07 701.89,1062.68 699.54,1065.26 697.3,1067.8 695.46,1069.92 693.66,1072 691.92,1074.04 690.24,1076.07 688.61,1078.09 687.04,1080.13 685.54,1082.2 684.1,1084.3 682.8,1086.29 681.55,1088.27 680.34,1090.25 679.19,1092.25 678.11,1094.28 677.09,1096.38 676.16,1098.54 675.3,1100.8 674.47,1103.48 673.79,1106.32 673.23,1109.27 672.74,1112.28 672.3,1115.3 671.87,1118.29 671.41,1121.21 670.9,1124 670.4,1126.34 669.87,1128.59 669.33,1130.78 668.8,1132.95 668.28,1135.12 667.8,1137.33 667.37,1139.61 667,1142 666.65,1144.95 666.36,1148.04 666.14,1151.24 665.96,1154.49 665.83,1157.73 665.73,1160.94 665.65,1164.04 665.6,1167 665.56,1169.35 665.52,1171.57 665.5,1173.71 665.51,1175.82 665.55,1177.96 665.64,1180.16 665.79,1182.49 666,1185 666.41,1188.85 666.94,1193.03 667.58,1197.44 668.31,1202 669.12,1206.62 670.02,1211.22 670.98,1215.71 672,1220 673.03,1223.89 674.13,1227.7 675.3,1231.45 676.53,1235.16 677.83,1238.85 679.17,1242.54 680.57,1246.25 682,1250 683.58,1253.97 685.26,1257.94 687,1261.92 688.8,1265.9 690.62,1269.9 692.44,1273.91 694.24,1277.94 696,1282 697.75,1286.17 699.45,1290.32 701.14,1294.48 702.82,1298.67 704.53,1302.9 706.28,1307.19 708.1,1311.55 710,1316 712.29,1321.26 714.68,1326.68 717.16,1332.22 719.69,1337.82 722.26,1343.44 724.84,1349.05 727.43,1354.58 730,1360 732.45,1365.15 734.9,1370.29 737.36,1375.4 739.84,1380.48 742.33,1385.49 744.85,1390.43 747.41,1395.27 750,1400 752.42,1404.24 754.87,1408.38 757.34,1412.45 759.84,1416.46 762.36,1420.4 764.9,1424.3 767.44,1428.16 770,1432 772.45,1435.64 774.91,1439.24 777.39,1442.81 779.88,1446.34 782.39,1449.82 784.91,1453.26 787.45,1456.65 790,1460 792.47,1463.19 794.99,1466.4 797.54,1469.6 800.09,1472.75 802.63,1475.8 805.14,1478.72 807.61,1481.47 810,1484 811.78,1485.76 813.52,1487.39 815.24,1488.9 816.93,1490.34 818.62,1491.74 820.31,1493.13 822,1494.54 823.7,1496" fill="none" stroke="#000" stroke-opacity="0.78" stroke-width="1.05" stroke-linejoin="round"/>
<polyline points="823.7,949.5 822.79,950.43 821.88,951.34 820.99,952.25 820.09,953.16 819.18,954.08 818.25,955.03 817.3,956 816.3,957 815.03,958.28 813.7,959.6 812.34,960.97 810.94,962.37 809.52,963.78 808.1,965.2 806.69,966.61 805.3,968 803.92,969.37 802.54,970.73 801.16,972.09 799.78,973.45 798.4,974.81 797.03,976.19 795.66,977.58 794.3,979 792.91,980.48 791.53,981.98 790.15,983.5 788.78,985.03 787.41,986.57 786.04,988.11 784.67,989.66 783.3,991.2 781.91,992.75 780.51,994.3 779.11,995.85 777.72,997.41 776.32,998.97 774.94,1000.56 773.56,1002.16 772.2,1003.8 770.8,1005.54 769.41,1007.31 768.04,1009.11 766.67,1010.92 765.3,1012.75 763.94,1014.57 762.57,1016.39 761.2,1018.2 759.83,1019.99 758.45,1021.78 757.08,1023.57 755.7,1025.35 754.33,1027.14 752.95,1028.93 751.58,1030.71 750.2,1032.5 748.83,1034.29 747.46,1036.09 746.09,1037.9 744.72,1039.7 743.35,1041.49 741.97,1043.28 740.59,1045.05 739.2,1046.8 737.84,1048.49 736.47,1050.15 735.1,1051.8 733.72,1053.44 732.34,1055.08 730.96,1056.71 729.58,1058.35 728.2,1060 726.81,1061.66 725.42,1063.31 724.03,1064.95 722.63,1066.6 721.24,1068.26 719.85,1069.92 718.47,1071.6 717.1,1073.3 715.69,1075.05 714.26,1076.8 712.82,1078.57 711.39,1080.35 709.99,1082.15 708.63,1083.95 707.33,1085.77 706.1,1087.6 704.99,1089.33 703.9,1091.03 702.86,1092.73 701.86,1094.45 700.9,1096.21 700.01,1098.02 699.17,1099.91 698.4,1101.9 697.59,1104.39 696.89,1107.03 696.28,1109.79 695.74,1112.62 695.25,1115.49 694.81,1118.37 694.4,1121.22 694,1124 693.62,1126.65 693.27,1129.29 692.95,1131.92 692.67,1134.55 692.43,1137.18 692.23,1139.79 692.09,1142.4 692,1145 691.97,1147.53 691.99,1150.07 692.06,1152.61 692.17,1155.14 692.33,1157.65 692.52,1160.13 692.74,1162.59 693,1165 693.25,1167.17 693.52,1169.27 693.8,1171.32 694.13,1173.36 694.49,1175.42 694.92,1177.52 695.42,1179.71 696,1182 696.9,1185.19 697.94,1188.54 699.11,1192.01 700.37,1195.57 701.71,1199.19 703.12,1202.82 704.55,1206.44 706,1210 707.6,1213.78 709.31,1217.66 711.11,1221.58 712.94,1225.49 714.79,1229.33 716.6,1233.07 718.35,1236.64 720,1240 721.17,1242.38 722.26,1244.58 723.3,1246.66 724.33,1248.68 725.38,1250.71 726.48,1252.81 727.68,1255.06 729,1257.5 731.18,1261.44 733.61,1265.72 736.23,1270.24 738.97,1274.95 741.77,1279.75 744.59,1284.58 747.35,1289.35 750,1294 752.53,1298.53 755.02,1303.1 757.49,1307.69 759.96,1312.26 762.43,1316.8 764.92,1321.29 767.44,1325.7 770,1330 772.44,1333.93 774.9,1337.78 777.39,1341.57 779.89,1345.31 782.41,1349.01 784.94,1352.68 787.47,1356.34 790,1360 792.5,1363.62 795.03,1367.29 797.59,1370.97 800.15,1374.61 802.68,1378.18 805.19,1381.63 807.63,1384.91 810,1388 811.79,1390.25 813.55,1392.36 815.26,1394.38 816.96,1396.32 818.64,1398.23 820.32,1400.12 822,1402.04 823.7,1404" fill="none" stroke="#000" stroke-opacity="0.78" stroke-width="1.05" stroke-linejoin="round"/>
<polyline points="823.7,956.5 822.79,957.6 821.89,958.69 821.01,959.77 820.12,960.86 819.21,961.96 818.28,963.06 817.32,964.17 816.3,965.3 815.05,966.63 813.72,967.97 812.35,969.33 810.94,970.7 809.52,972.08 808.09,973.48 806.68,974.88 805.3,976.3 803.91,977.77 802.52,979.25 801.14,980.74 799.77,982.25 798.39,983.77 797.02,985.3 795.66,986.85 794.3,988.4 792.91,990 791.52,991.61 790.13,993.23 788.75,994.86 787.38,996.51 786.01,998.18 784.65,999.87 783.3,1001.6 781.89,1003.46 780.49,1005.36 779.1,1007.29 777.72,1009.25 776.34,1011.22 774.96,1013.19 773.58,1015.15 772.2,1017.1 770.82,1019.02 769.44,1020.94 768.06,1022.85 766.68,1024.76 765.3,1026.67 763.93,1028.6 762.56,1030.54 761.2,1032.5 759.81,1034.52 758.43,1036.55 757.04,1038.6 755.67,1040.66 754.29,1042.72 752.93,1044.8 751.56,1046.9 750.2,1049 748.81,1051.17 747.43,1053.37 746.06,1055.58 744.68,1057.8 743.31,1060.03 741.95,1062.26 740.57,1064.49 739.2,1066.7 737.8,1068.9 736.35,1071.08 734.89,1073.26 733.44,1075.45 732.02,1077.64 730.66,1079.84 729.38,1082.06 728.2,1084.3 727.17,1086.44 726.21,1088.58 725.3,1090.73 724.46,1092.89 723.67,1095.08 722.93,1097.3 722.24,1099.57 721.6,1101.9 720.97,1104.54 720.41,1107.29 719.91,1110.12 719.48,1112.98 719.1,1115.83 718.76,1118.65 718.46,1121.38 718.2,1124 718,1126.12 717.83,1128.16 717.7,1130.16 717.59,1132.13 717.52,1134.08 717.48,1136.03 717.47,1137.99 717.5,1140 717.56,1142.11 717.65,1144.25 717.78,1146.4 717.94,1148.55 718.14,1150.7 718.38,1152.83 718.67,1154.93 719,1157 719.37,1158.95 719.78,1160.9 720.24,1162.83 720.73,1164.74 721.26,1166.62 721.82,1168.47 722.4,1170.26 723,1172 723.54,1173.45 724.09,1174.81 724.66,1176.11 725.25,1177.39 725.87,1178.69 726.54,1180.03 727.24,1181.46 728,1183 729.24,1185.47 730.64,1188.13 732.16,1190.94 733.74,1193.87 735.36,1196.88 736.97,1199.93 738.53,1202.98 740,1206 741.4,1209.16 742.71,1212.39 743.95,1215.67 745.19,1218.97 746.46,1222.28 747.82,1225.56 749.32,1228.81 751,1232 753.02,1235.32 755.23,1238.56 757.59,1241.76 760.05,1244.94 762.57,1248.12 765.1,1251.34 767.59,1254.63 770,1258 772.52,1261.72 775.02,1265.52 777.53,1269.38 780.02,1273.3 782.52,1277.23 785.01,1281.17 787.5,1285.1 790,1289 792.52,1292.92 795.08,1296.91 797.65,1300.93 800.21,1304.94 802.75,1308.89 805.24,1312.74 807.66,1316.46 810,1320 811.82,1322.72 813.58,1325.32 815.3,1327.84 816.99,1330.29 818.66,1332.7 820.33,1335.11 822,1337.53 823.7,1340" fill="none" stroke="#000" stroke-opacity="0.78" stroke-width="1.05" stroke-linejoin="round"/>
<polyline points="823.7,968 822.78,968.89 821.88,969.75 820.98,970.61 820.07,971.47 819.16,972.34 818.23,973.25 817.28,974.2 816.3,975.2 815.01,976.54 813.67,977.95 812.29,979.42 810.89,980.95 809.47,982.51 808.06,984.09 806.66,985.69 805.3,987.3 803.9,989 802.5,990.74 801.12,992.51 799.75,994.3 798.38,996.11 797.02,997.93 795.66,999.76 794.3,1001.6 792.91,1003.49 791.52,1005.39 790.14,1007.29 788.76,1009.22 787.38,1011.16 786.02,1013.11 784.65,1015.1 783.3,1017.1 781.89,1019.23 780.49,1021.38 779.09,1023.57 777.7,1025.77 776.32,1027.99 774.94,1030.22 773.57,1032.46 772.2,1034.7 770.8,1036.99 769.41,1039.28 768.02,1041.57 766.64,1043.88 765.26,1046.21 763.9,1048.57 762.54,1050.96 761.2,1053.4 759.77,1056.05 758.32,1058.76 756.88,1061.5 755.46,1064.28 754.06,1067.07 752.71,1069.88 751.42,1072.7 750.2,1075.5 749.06,1078.21 747.94,1080.9 746.86,1083.59 745.82,1086.3 744.86,1089.03 743.97,1091.8 743.18,1094.62 742.5,1097.5 741.9,1100.7 741.43,1104.03 741.07,1107.43 740.8,1110.87 740.61,1114.3 740.47,1117.66 740.37,1120.91 740.3,1124 740.26,1126.41 740.25,1128.72 740.27,1130.97 740.32,1133.17 740.42,1135.34 740.56,1137.53 740.76,1139.74 741,1142 741.32,1144.46 741.7,1146.94 742.14,1149.43 742.62,1151.94 743.16,1154.45 743.73,1156.97 744.35,1159.49 745,1162 745.71,1164.61 746.46,1167.23 747.25,1169.84 748.08,1172.46 748.97,1175.08 749.91,1177.71 750.92,1180.35 752,1183 753.24,1185.89 754.53,1188.76 755.89,1191.64 757.32,1194.53 758.83,1197.45 760.44,1200.4 762.16,1203.42 764,1206.5 766.53,1210.48 769.32,1214.6 772.31,1218.81 775.43,1223.09 778.62,1227.38 781.83,1231.66 784.97,1235.88 788,1240 790.82,1243.88 793.68,1247.78 796.54,1251.68 799.38,1255.53 802.17,1259.32 804.89,1263.02 807.51,1266.59 810,1270 811.87,1272.58 813.66,1275.05 815.38,1277.44 817.06,1279.77 818.71,1282.06 820.35,1284.35 822.01,1286.65 823.7,1289" fill="none" stroke="#000" stroke-opacity="0.78" stroke-width="1.05" stroke-linejoin="round"/>
<polyline points="823.7,979.5 822.78,980.46 821.87,981.38 820.97,982.3 820.06,983.22 819.14,984.17 818.22,985.15 817.27,986.19 816.3,987.3 815,988.85 813.65,990.51 812.27,992.25 810.87,994.06 809.46,995.92 808.05,997.81 806.66,999.71 805.3,1001.6 803.89,1003.58 802.49,1005.59 801.1,1007.62 799.72,1009.68 798.35,1011.76 796.99,1013.88 795.64,1016.02 794.3,1018.2 792.89,1020.57 791.5,1023 790.12,1025.47 788.76,1027.97 787.4,1030.48 786.04,1033 784.67,1035.51 783.3,1038 781.9,1040.47 780.48,1042.92 779.04,1045.38 777.61,1047.83 776.2,1050.29 774.81,1052.77 773.48,1055.27 772.2,1057.8 770.96,1060.36 769.75,1062.94 768.56,1065.54 767.41,1068.16 766.31,1070.79 765.27,1073.44 764.3,1076.11 763.4,1078.8 762.57,1081.49 761.8,1084.2 761.09,1086.93 760.44,1089.68 759.86,1092.44 759.33,1095.21 758.88,1098 758.5,1100.8 758.19,1103.68 757.97,1106.61 757.81,1109.57 757.73,1112.53 757.7,1115.48 757.72,1118.39 757.79,1121.24 757.9,1124 758.02,1126.36 758.18,1128.65 758.38,1130.89 758.61,1133.1 758.89,1135.3 759.21,1137.51 759.58,1139.73 760,1142 760.51,1144.47 761.07,1146.97 761.69,1149.49 762.35,1152.02 763.07,1154.54 763.84,1157.05 764.65,1159.54 765.5,1162 766.38,1164.42 767.29,1166.82 768.24,1169.19 769.24,1171.55 770.31,1173.9 771.44,1176.26 772.67,1178.62 774,1181 775.67,1183.72 777.49,1186.42 779.44,1189.11 781.48,1191.81 783.58,1194.54 785.72,1197.3 787.87,1200.12 790,1203 792.42,1206.39 794.92,1209.93 797.48,1213.57 800.06,1217.25 802.64,1220.89 805.17,1224.44 807.63,1227.83 810,1231 811.81,1233.35 813.56,1235.58 815.28,1237.72 816.97,1239.79 818.65,1241.83 820.32,1243.86 822,1245.91 823.7,1248" fill="none" stroke="#000" stroke-opacity="0.78" stroke-width="1.05" stroke-linejoin="round"/>
<polyline points="823.7,992 822.78,993.04 821.86,994.04 820.95,995.02 820.04,996.01 819.12,997.03 818.19,998.11 817.25,999.25 816.3,1000.5 814.97,1002.36 813.61,1004.37 812.22,1006.51 810.82,1008.75 809.41,1011.07 808.02,1013.44 806.64,1015.82 805.3,1018.2 803.88,1020.81 802.48,1023.5 801.1,1026.24 799.74,1029.02 798.38,1031.82 797.03,1034.63 795.67,1037.43 794.3,1040.2 792.9,1042.95 791.48,1045.68 790.04,1048.42 788.6,1051.16 787.19,1053.9 785.83,1056.65 784.52,1059.42 783.3,1062.2 782.17,1064.93 781.06,1067.67 780.01,1070.42 779,1073.18 778.04,1075.95 777.15,1078.73 776.34,1081.51 775.6,1084.3 774.95,1087.04 774.37,1089.82 773.85,1092.62 773.4,1095.41 773.01,1098.2 772.68,1100.95 772.41,1103.66 772.2,1106.3 772.07,1108.61 771.99,1110.88 771.96,1113.12 771.97,1115.33 772.04,1117.52 772.15,1119.69 772.3,1121.85 772.5,1124 772.72,1126.05 772.98,1128.08 773.28,1130.1 773.62,1132.11 774.01,1134.1 774.45,1136.07 774.95,1138.04 775.5,1140 776.12,1141.96 776.79,1143.88 777.52,1145.79 778.3,1147.68 779.14,1149.58 780.03,1151.51 780.99,1153.48 782,1155.5 783.34,1158.07 784.81,1160.73 786.37,1163.45 788.01,1166.21 789.71,1168.97 791.46,1171.71 793.23,1174.4 795,1177 796.77,1179.48 798.61,1181.92 800.49,1184.33 802.4,1186.7 804.32,1189.05 806.24,1191.38 808.14,1193.69 810,1196 811.74,1198.17 813.46,1200.32 815.18,1202.45 816.88,1204.56 818.59,1206.67 820.29,1208.77 821.99,1210.88 823.7,1213" fill="none" stroke="#000" stroke-opacity="0.78" stroke-width="1.05" stroke-linejoin="round"/>
<polyline points="823.7,1007.5 822.77,1008.82 821.83,1010.11 820.89,1011.38 819.95,1012.66 819.02,1013.97 818.09,1015.32 817.19,1016.72 816.3,1018.2 815.28,1020.05 814.29,1021.97 813.33,1023.97 812.38,1026.03 811.44,1028.14 810.5,1030.29 809.56,1032.48 808.6,1034.7 807.49,1037.29 806.38,1039.96 805.25,1042.69 804.14,1045.47 803.02,1048.28 801.93,1051.1 800.85,1053.92 799.8,1056.7 798.76,1059.45 797.71,1062.2 796.67,1064.95 795.65,1067.71 794.67,1070.47 793.74,1073.24 792.88,1076.02 792.1,1078.8 791.4,1081.56 790.74,1084.36 790.12,1087.19 789.57,1090.02 789.09,1092.82 788.69,1095.57 788.39,1098.24 788.2,1100.8 788.13,1102.83 788.14,1104.8 788.21,1106.72 788.34,1108.6 788.52,1110.46 788.75,1112.3 789.01,1114.15 789.3,1116 789.62,1117.83 789.97,1119.64 790.36,1121.44 790.79,1123.23 791.27,1125.02 791.79,1126.83 792.37,1128.65 793,1130.5 793.79,1132.64 794.65,1134.82 795.59,1137.02 796.58,1139.24 797.63,1141.46 798.72,1143.66 799.84,1145.85 801,1148 802.23,1150.18 803.53,1152.35 804.87,1154.51 806.26,1156.66 807.67,1158.78 809.11,1160.88 810.55,1162.96 812,1165 813.41,1166.94 814.85,1168.85 816.31,1170.73 817.79,1172.59 819.27,1174.44 820.75,1176.28 822.23,1178.13 823.7,1180" fill="none" stroke="#000" stroke-opacity="0.78" stroke-width="1.05" stroke-linejoin="round"/>
<polyline points="823.7,1033 823.05,1034.58 822.41,1036.14 821.77,1037.69 821.14,1039.24 820.49,1040.81 819.84,1042.41 819.18,1044.03 818.5,1045.7 817.69,1047.64 816.84,1049.62 815.97,1051.64 815.1,1053.69 814.23,1055.77 813.4,1057.88 812.61,1060.03 811.9,1062.2 811.21,1064.58 810.57,1067.02 809.98,1069.51 809.43,1072.04 808.91,1074.57 808.42,1077.11 807.95,1079.62 807.5,1082.1 807.06,1084.49 806.61,1086.9 806.17,1089.32 805.77,1091.72 805.41,1094.1 805.11,1096.41 804.91,1098.65 804.8,1100.8 804.79,1102.45 804.82,1104.04 804.91,1105.58 805.04,1107.08 805.22,1108.57 805.44,1110.04 805.7,1111.51 806,1113 806.35,1114.52 806.75,1116.03 807.19,1117.53 807.68,1119.02 808.2,1120.52 808.77,1122.01 809.37,1123.5 810,1125 810.74,1126.64 811.54,1128.31 812.39,1130 813.28,1131.68 814.2,1133.33 815.13,1134.95 816.07,1136.51 817,1138 817.81,1139.23 818.64,1140.4 819.47,1141.53 820.32,1142.64 821.16,1143.72 822.01,1144.8 822.86,1145.89 823.7,1147" fill="none" stroke="#000" stroke-opacity="0.78" stroke-width="1.05" stroke-linejoin="round"/>
<path d="M80.4 938.3V1666.7M173.31 938.3V1666.7M303.39 938.3V1666.7M433.47 938.3V1666.7M563.55 938.3V1666.7M693.62 938.3V1666.7M823.7 938.3V1666.7M80.4 1666.7H823.7M80.4 1575.65H823.7M80.4 1448.18H823.7M80.4 1320.71H823.7M80.4 1193.24H823.7M80.4 1065.77H823.7M80.4 938.3H823.7" stroke="#000" stroke-opacity="0.02" stroke-width="1.3" fill="none"/>
</g>
<path d="M173.31 938.3v7.5M303.39 938.3v7.5M433.47 938.3v7.5M563.55 938.3v7.5M693.62 938.3v7.5M80.4 1575.65h7.5M80.4 1448.18h7.5M80.4 1320.71h7.5M80.4 1193.24h7.5M80.4 1065.77h7.5M80.4 938.3L823.7 938.3M823.7 938.3L823.7 940.12M823.7 1666.7L823.7 1666.7M823.7 1666.7L821.84 1666.7M80.4 1666.7L80.4 1666.7M80.4 1666.7L80.4 938.3" stroke="#262626" stroke-width="1.1" fill="none" stroke-linecap="square"/>
<path d="M173.31 1666.7v-7.5M303.39 1666.7v-7.5M433.47 1666.7v-7.5M563.55 1666.7v-7.5M693.62 1666.7v-7.5M823.7 1575.65h-7.5M823.7 1448.18h-7.5M823.7 1320.71h-7.5M823.7 1193.24h-7.5M823.7 1065.77h-7.5M823.7 940.12L823.7 1666.7M821.84 1666.7L80.4 1666.7" stroke="#101030" stroke-opacity="0.55" stroke-width="1.1" fill="none"/>
<text x="79.2" y="1706.7" font-size="29" text-anchor="middle">2</text>
<text x="172.11" y="1706.7" font-size="29" text-anchor="middle">7</text>
<text x="302.19" y="1706.7" font-size="29" text-anchor="middle">14</text>
<text x="432.27" y="1706.7" font-size="29" text-anchor="middle">21</text>
<text x="562.35" y="1706.7" font-size="29" text-anchor="middle">28</text>
<text x="692.42" y="1706.7" font-size="29" text-anchor="middle">35</text>
<text x="822.5" y="1706.7" font-size="29" text-anchor="middle">42</text>
<text x="71.4" y="1678.3" font-size="29" text-anchor="end">2</text>
<text x="71.4" y="1587.25" font-size="29" text-anchor="end">7</text>
<text x="71.4" y="1459.78" font-size="29" text-anchor="end">14</text>
<text x="71.4" y="1332.31" font-size="29" text-anchor="end">21</text>
<text x="71.4" y="1204.84" font-size="29" text-anchor="end">28</text>
<text x="71.4" y="1077.37" font-size="29" text-anchor="end">35</text>
<text x="71.4" y="949.9" font-size="29" text-anchor="end">42</text>
<text x="433.45" y="1749.3" font-size="33" text-anchor="middle">Week of surgery</text>
<text transform="translate(25.8 1321.3) rotate(-90)" font-size="33" text-anchor="middle">Week of implantation</text>
<text x="433.55" y="923.6" font-size="33" font-weight="bold" class="tt" text-anchor="middle">Mean Distance Scenario</text>
<text x="804" y="1104.8" font-size="28" fill="#fff" text-anchor="middle" class="cl">0.9</text>
<text x="793" y="1130.8" font-size="28" fill="#fff" text-anchor="middle" class="cl">0.8</text>
<text x="782" y="1155.8" font-size="28" fill="#fff" text-anchor="middle" class="cl">0.7</text>
<text x="774" y="1181.3" font-size="28" fill="#fff" text-anchor="middle" class="cl">0.6</text>
<text x="764" y="1206.8" font-size="28" fill="#fff" text-anchor="middle" class="cl">0.5</text>
<text x="751" y="1232.3" font-size="28" fill="#fff" text-anchor="middle" class="cl">0.4</text>
<text x="729" y="1257.8" font-size="28" fill="#fff" text-anchor="middle" class="cl">0.3</text>
<text x="696" y="1283.3" font-size="28" fill="#fff" text-anchor="middle" class="cl">0.2</text>
<text x="653" y="1308.8" font-size="28" fill="#fff" text-anchor="middle" class="cl">0.1</text>
<clipPath id="clipP4"><rect x="961.7" y="938.3" width="743.3" height="728.4"/></clipPath>
<clipPath id="clipP4d"><polygon points="961.7,1666.7 1705,938.3 1705,1666.7"/></clipPath>
<g clip-path="url(#clipP4)">
<path d="M980.28 938.3V1666.7M998.87 938.3V1666.7M1017.45 938.3V1666.7M1036.03 938.3V1666.7M1073.19 938.3V1666.7M1091.78 938.3V1666.7M1110.36 938.3V1666.7M1128.94 938.3V1666.7M1147.53 938.3V1666.7M1166.11 938.3V1666.7M1203.27 938.3V1666.7M1221.86 938.3V1666.7M1240.44 938.3V1666.7M1259.02 938.3V1666.7M1277.6 938.3V1666.7M1296.18 938.3V1666.7M1333.35 938.3V1666.7M1351.93 938.3V1666.7M1370.52 938.3V1666.7M1389.1 938.3V1666.7M1407.68 938.3V1666.7M1426.26 938.3V1666.7M1463.43 938.3V1666.7M1482.01 938.3V1666.7M1500.59 938.3V1666.7M1519.17 938.3V1666.7M1537.76 938.3V1666.7M1556.34 938.3V1666.7M1593.51 938.3V1666.7M1612.09 938.3V1666.7M1630.67 938.3V1666.7M1649.25 938.3V1666.7M1667.84 938.3V1666.7M1686.42 938.3V1666.7M961.7 1648.49H1705M961.7 1630.28H1705M961.7 1612.07H1705M961.7 1593.86H1705M961.7 1557.44H1705M961.7 1539.23H1705M961.7 1521.02H1705M961.7 1502.81H1705M961.7 1484.6H1705M961.7 1466.39H1705M961.7 1429.97H1705M961.7 1411.76H1705M961.7 1393.55H1705M961.7 1375.34H1705M961.7 1357.13H1705M961.7 1338.92H1705M961.7 1302.5H1705M961.7 1284.29H1705M961.7 1266.08H1705M961.7 1247.87H1705M961.7 1229.66H1705M961.7 1211.45H1705M961.7 1175.03H1705M961.7 1156.82H1705M961.7 1138.61H1705M961.7 1120.4H1705M961.7 1102.19H1705M961.7 1083.98H1705M961.7 1047.56H1705M961.7 1029.35H1705M961.7 1011.14H1705M961.7 992.93H1705M961.7 974.72H1705M961.7 956.51H1705" stroke="#000" stroke-opacity="0.05" stroke-width="1.2" fill="none"/>
<path d="M961.7 938.3V1666.7M1054.61 938.3V1666.7M1184.69 938.3V1666.7M1314.77 938.3V1666.7M1444.85 938.3V1666.7M1574.92 938.3V1666.7M1705 938.3V1666.7M961.7 1666.7H1705M961.7 1575.65H1705M961.7 1448.18H1705M961.7 1320.71H1705M961.7 1193.24H1705M961.7 1065.77H1705M961.7 938.3H1705" stroke="#000" stroke-opacity="0.13" stroke-width="1.3" fill="none"/>
</g>
<g clip-path="url(#clipP4d)">
<polygon points="961.7,1666.7 1705,938.3 1705,1666.7" fill="#3e26a8"/>
<polygon points="1632.5,1009 1631.15,1011.73 1629.74,1014.43 1628.32,1017.12 1626.9,1019.82 1625.53,1022.54 1624.23,1025.3 1623.05,1028.11 1622,1031 1621.06,1034.09 1620.23,1037.23 1619.51,1040.43 1618.88,1043.67 1618.32,1046.96 1617.83,1050.28 1617.4,1053.63 1617,1057 1616.65,1060.61 1616.4,1064.23 1616.22,1067.89 1616.11,1071.58 1616.05,1075.33 1616.02,1079.14 1616.01,1083.03 1616,1087 1615.99,1091.73 1615.99,1096.6 1616.03,1101.59 1616.11,1106.65 1616.23,1111.76 1616.42,1116.88 1616.67,1121.97 1617,1127 1617.42,1132.03 1617.91,1137.11 1618.47,1142.19 1619.09,1147.26 1619.77,1152.3 1620.48,1157.29 1621.23,1162.2 1622,1167 1622.74,1171.32 1623.53,1175.6 1624.36,1179.83 1625.22,1184.01 1626.1,1188.12 1626.98,1192.16 1627.87,1196.12 1628.75,1200 1629.51,1203.29 1630.27,1206.48 1631.03,1209.59 1631.8,1212.66 1632.58,1215.7 1633.37,1218.76 1634.18,1221.85 1635,1225 1635.89,1228.38 1636.79,1231.78 1637.71,1235.2 1638.64,1238.65 1639.59,1242.1 1640.55,1245.57 1641.52,1249.04 1642.5,1252.5 1643.5,1256.04 1644.48,1259.57 1645.47,1263.12 1646.48,1266.67 1647.52,1270.23 1648.61,1273.8 1649.76,1277.39 1651,1281 1652.43,1284.92 1653.96,1288.9 1655.57,1292.91 1657.23,1296.93 1658.92,1300.93 1660.63,1304.88 1662.33,1308.75 1664,1312.5 1665.48,1315.79 1666.95,1319.02 1668.42,1322.19 1669.89,1325.31 1671.38,1328.4 1672.89,1331.45 1674.43,1334.48 1676,1337.5 1677.55,1340.39 1679.1,1343.24 1680.68,1346.05 1682.28,1348.84 1683.91,1351.62 1685.57,1354.4 1687.26,1357.19 1689,1360 1690.89,1362.99 1692.83,1365.98 1694.83,1368.98 1696.85,1371.98 1698.9,1374.99 1700.94,1377.99 1702.98,1381 1705,1384 1765,1384 1765,878.3 1632.5,878.3" fill="#4536d5"/>
<polygon points="1705,964 1703.15,965.72 1701.34,967.41 1699.55,969.08 1697.74,970.75 1695.91,972.46 1694.02,974.22 1692.06,976.06 1690,978 1687.03,980.75 1683.77,983.71 1680.32,986.81 1676.8,990 1673.34,993.22 1670.04,996.4 1667.02,999.48 1664.4,1002.4 1662.74,1004.41 1661.21,1006.36 1659.79,1008.27 1658.48,1010.16 1657.26,1012.04 1656.11,1013.93 1655.03,1015.84 1654,1017.8 1653.1,1019.63 1652.27,1021.44 1651.52,1023.25 1650.82,1025.08 1650.18,1026.95 1649.58,1028.88 1649.02,1030.89 1648.5,1033 1647.9,1035.79 1647.37,1038.73 1646.91,1041.8 1646.52,1044.96 1646.2,1048.19 1645.94,1051.46 1645.74,1054.74 1645.6,1058 1645.53,1061.52 1645.54,1065.09 1645.63,1068.7 1645.79,1072.34 1646.02,1076 1646.3,1079.68 1646.63,1083.35 1647,1087 1647.43,1090.74 1647.93,1094.48 1648.48,1098.24 1649.09,1102 1649.75,1105.76 1650.46,1109.51 1651.21,1113.26 1652,1117 1652.84,1120.78 1653.73,1124.58 1654.67,1128.39 1655.65,1132.18 1656.68,1135.96 1657.75,1139.69 1658.85,1143.38 1660,1147 1661.11,1150.36 1662.26,1153.67 1663.43,1156.93 1664.64,1160.16 1665.9,1163.36 1667.21,1166.57 1668.57,1169.77 1670,1173 1671.57,1176.43 1673.23,1179.93 1674.96,1183.45 1676.74,1186.95 1678.55,1190.4 1680.38,1193.75 1682.2,1196.96 1684,1200 1685.49,1202.38 1687.01,1204.66 1688.54,1206.86 1690.07,1209 1691.59,1211.06 1693.1,1213.08 1694.57,1215.06 1696,1217 1697.18,1218.61 1698.33,1220.16 1699.45,1221.66 1700.57,1223.14 1701.67,1224.6 1702.78,1226.05 1703.88,1227.52 1705,1229 1765,1229 1765,964" fill="#484cef"/>
<polygon points="1705,988.4 1702.23,990.8 1699.31,993.19 1696.34,995.59 1693.4,997.99 1690.57,1000.38 1687.94,1002.78 1685.59,1005.19 1683.6,1007.6 1682.37,1009.37 1681.29,1011.12 1680.35,1012.85 1679.52,1014.59 1678.8,1016.36 1678.15,1018.18 1677.55,1020.05 1677,1022 1676.46,1024.29 1676.03,1026.67 1675.71,1029.11 1675.47,1031.61 1675.3,1034.16 1675.17,1036.75 1675.08,1039.36 1675,1042 1674.93,1044.99 1674.91,1048.07 1674.95,1051.2 1675.03,1054.37 1675.18,1057.56 1675.38,1060.74 1675.66,1063.89 1676,1067 1676.41,1070.05 1676.87,1073.09 1677.4,1076.13 1677.99,1079.15 1678.64,1082.15 1679.36,1085.13 1680.15,1088.09 1681,1091 1681.92,1093.86 1682.91,1096.71 1683.98,1099.56 1685.1,1102.37 1686.27,1105.13 1687.49,1107.84 1688.73,1110.47 1690,1113 1691.18,1115.22 1692.43,1117.43 1693.73,1119.61 1695.05,1121.72 1696.37,1123.74 1697.65,1125.65 1698.87,1127.41 1700,1129 1700.68,1129.91 1701.33,1130.74 1701.96,1131.5 1702.57,1132.21 1703.17,1132.9 1703.78,1133.58 1704.38,1134.27 1705,1135 1765,1135 1765,988.4" fill="#4562fc"/>
<polyline points="1632.5,1009 1631.15,1011.73 1629.74,1014.43 1628.32,1017.12 1626.9,1019.82 1625.53,1022.54 1624.23,1025.3 1623.05,1028.11 1622,1031 1621.06,1034.09 1620.23,1037.23 1619.51,1040.43 1618.88,1043.67 1618.32,1046.96 1617.83,1050.28 1617.4,1053.63 1617,1057 1616.65,1060.61 1616.4,1064.23 1616.22,1067.89 1616.11,1071.58 1616.05,1075.33 1616.02,1079.14 1616.01,1083.03 1616,1087 1615.99,1091.73 1615.99,1096.6 1616.03,1101.59 1616.11,1106.65 1616.23,1111.76 1616.42,1116.88 1616.67,1121.97 1617,1127 1617.42,1132.03 1617.91,1137.11 1618.47,1142.19 1619.09,1147.26 1619.77,1152.3 1620.48,1157.29 1621.23,1162.2 1622,1167 1622.74,1171.32 1623.53,1175.6 1624.36,1179.83 1625.22,1184.01 1626.1,1188.12 1626.98,1192.16 1627.87,1196.12 1628.75,1200 1629.51,1203.29 1630.27,1206.48 1631.03,1209.59 1631.8,1212.66 1632.58,1215.7 1633.37,1218.76 1634.18,1221.85 1635,1225 1635.89,1228.38 1636.79,1231.78 1637.71,1235.2 1638.64,1238.65 1639.59,1242.1 1640.55,1245.57 1641.52,1249.04 1642.5,1252.5 1643.5,1256.04 1644.48,1259.57 1645.47,1263.12 1646.48,1266.67 1647.52,1270.23 1648.61,1273.8 1649.76,1277.39 1651,1281 1652.43,1284.92 1653.96,1288.9 1655.57,1292.91 1657.23,1296.93 1658.92,1300.93 1660.63,1304.88 1662.33,1308.75 1664,1312.5 1665.48,1315.79 1666.95,1319.02 1668.42,1322.19 1669.89,1325.31 1671.38,1328.4 1672.89,1331.45 1674.43,1334.48 1676,1337.5 1677.55,1340.39 1679.1,1343.24 1680.68,1346.05 1682.28,1348.84 1683.91,1351.62 1685.57,1354.4 1687.26,1357.19 1689,1360 1690.89,1362.99 1692.83,1365.98 1694.83,1368.98 1696.85,1371.98 1698.9,1374.99 1700.94,1377.99 1702.98,1381 1705,1384" fill="none" stroke="#000" stroke-opacity="0.78" stroke-width="1.05" stroke-linejoin="round"/>
<polyline points="1705,964 1703.15,965.72 1701.34,967.41 1699.55,969.08 1697.74,970.75 1695.91,972.46 1694.02,974.22 1692.06,976.06 1690,978 1687.03,980.75 1683.77,983.71 1680.32,986.81 1676.8,990 1673.34,993.22 1670.04,996.4 1667.02,999.48 1664.4,1002.4 1662.74,1004.41 1661.21,1006.36 1659.79,1008.27 1658.48,1010.16 1657.26,1012.04 1656.11,1013.93 1655.03,1015.84 1654,1017.8 1653.1,1019.63 1652.27,1021.44 1651.52,1023.25 1650.82,1025.08 1650.18,1026.95 1649.58,1028.88 1649.02,1030.89 1648.5,1033 1647.9,1035.79 1647.37,1038.73 1646.91,1041.8 1646.52,1044.96 1646.2,1048.19 1645.94,1051.46 1645.74,1054.74 1645.6,1058 1645.53,1061.52 1645.54,1065.09 1645.63,1068.7 1645.79,1072.34 1646.02,1076 1646.3,1079.68 1646.63,1083.35 1647,1087 1647.43,1090.74 1647.93,1094.48 1648.48,1098.24 1649.09,1102 1649.75,1105.76 1650.46,1109.51 1651.21,1113.26 1652,1117 1652.84,1120.78 1653.73,1124.58 1654.67,1128.39 1655.65,1132.18 1656.68,1135.96 1657.75,1139.69 1658.85,1143.38 1660,1147 1661.11,1150.36 1662.26,1153.67 1663.43,1156.93 1664.64,1160.16 1665.9,1163.36 1667.21,1166.57 1668.57,1169.77 1670,1173 1671.57,1176.43 1673.23,1179.93 1674.96,1183.45 1676.74,1186.95 1678.55,1190.4 1680.38,1193.75 1682.2,1196.96 1684,1200 1685.49,1202.38 1687.01,1204.66 1688.54,1206.86 1690.07,1209 1691.59,1211.06 1693.1,1213.08 1694.57,1215.06 1696,1217 1697.18,1218.61 1698.33,1220.16 1699.45,1221.66 1700.57,1223.14 1701.67,1224.6 1702.78,1226.05 1703.88,1227.52 1705,1229" fill="none" stroke="#000" stroke-opacity="0.78" stroke-width="1.05" stroke-linejoin="round"/>
<polyline points="1705,988.4 1702.23,990.8 1699.31,993.19 1696.34,995.59 1693.4,997.99 1690.57,1000.38 1687.94,1002.78 1685.59,1005.19 1683.6,1007.6 1682.37,1009.37 1681.29,1011.12 1680.35,1012.85 1679.52,1014.59 1678.8,1016.36 1678.15,1018.18 1677.55,1020.05 1677,1022 1676.46,1024.29 1676.03,1026.67 1675.71,1029.11 1675.47,1031.61 1675.3,1034.16 1675.17,1036.75 1675.08,1039.36 1675,1042 1674.93,1044.99 1674.91,1048.07 1674.95,1051.2 1675.03,1054.37 1675.18,1057.56 1675.38,1060.74 1675.66,1063.89 1676,1067 1676.41,1070.05 1676.87,1073.09 1677.4,1076.13 1677.99,1079.15 1678.64,1082.15 1679.36,1085.13 1680.15,1088.09 1681,1091 1681.92,1093.86 1682.91,1096.71 1683.98,1099.56 1685.1,1102.37 1686.27,1105.13 1687.49,1107.84 1688.73,1110.47 1690,1113 1691.18,1115.22 1692.43,1117.43 1693.73,1119.61 1695.05,1121.72 1696.37,1123.74 1697.65,1125.65 1698.87,1127.41 1700,1129 1700.68,1129.91 1701.33,1130.74 1701.96,1131.5 1702.57,1132.21 1703.17,1132.9 1703.78,1133.58 1704.38,1134.27 1705,1135" fill="none" stroke="#000" stroke-opacity="0.78" stroke-width="1.05" stroke-linejoin="round"/>
<path d="M961.7 938.3V1666.7M1054.61 938.3V1666.7M1184.69 938.3V1666.7M1314.77 938.3V1666.7M1444.85 938.3V1666.7M1574.92 938.3V1666.7M1705 938.3V1666.7M961.7 1666.7H1705M961.7 1575.65H1705M961.7 1448.18H1705M961.7 1320.71H1705M961.7 1193.24H1705M961.7 1065.77H1705M961.7 938.3H1705" stroke="#000" stroke-opacity="0.02" stroke-width="1.3" fill="none"/>
</g>
<path d="M1054.61 938.3v7.5M1184.69 938.3v7.5M1314.77 938.3v7.5M1444.85 938.3v7.5M1574.92 938.3v7.5M961.7 1575.65h7.5M961.7 1448.18h7.5M961.7 1320.71h7.5M961.7 1193.24h7.5M961.7 1065.77h7.5M961.7 938.3L1705 938.3M1705 938.3L1705 940.12M1705 1666.7L1705 1666.7M1705 1666.7L1703.14 1666.7M961.7 1666.7L961.7 1666.7M961.7 1666.7L961.7 938.3" stroke="#262626" stroke-width="1.1" fill="none" stroke-linecap="square"/>
<path d="M1054.61 1666.7v-7.5M1184.69 1666.7v-7.5M1314.77 1666.7v-7.5M1444.85 1666.7v-7.5M1574.92 1666.7v-7.5M1705 1575.65h-7.5M1705 1448.18h-7.5M1705 1320.71h-7.5M1705 1193.24h-7.5M1705 1065.77h-7.5M1705 940.12L1705 1666.7M1703.14 1666.7L961.7 1666.7" stroke="#101030" stroke-opacity="0.55" stroke-width="1.1" fill="none"/>
<text x="960.5" y="1706.7" font-size="29" text-anchor="middle">2</text>
<text x="1053.41" y="1706.7" font-size="29" text-anchor="middle">7</text>
<text x="1183.49" y="1706.7" font-size="29" text-anchor="middle">14</text>
<text x="1313.57" y="1706.7" font-size="29" text-anchor="middle">21</text>
<text x="1443.64" y="1706.7" font-size="29" text-anchor="middle">28</text>
<text x="1573.72" y="1706.7" font-size="29" text-anchor="middle">35</text>
<text x="1703.8" y="1706.7" font-size="29" text-anchor="middle">42</text>
<text x="952.7" y="1678.3" font-size="29" text-anchor="end">2</text>
<text x="952.7" y="1587.25" font-size="29" text-anchor="end">7</text>
<text x="952.7" y="1459.78" font-size="29" text-anchor="end">14</text>
<text x="952.7" y="1332.31" font-size="29" text-anchor="end">21</text>
<text x="952.7" y="1204.84" font-size="29" text-anchor="end">28</text>
<text x="952.7" y="1077.37" font-size="29" text-anchor="end">35</text>
<text x="952.7" y="949.9" font-size="29" text-anchor="end">42</text>
<text x="1314.55" y="1749.3" font-size="33" text-anchor="middle">Week of surgery</text>
<text transform="translate(907.1 1321.3) rotate(-90)" font-size="33" text-anchor="middle">Week of implantation</text>
<text x="1314.85" y="923.6" font-size="33" font-weight="bold" class="tt" text-anchor="middle">Long Distance Scenario</text>
<text x="1678" y="1068.8" font-size="28" fill="#fff" text-anchor="middle" class="cl">0.3</text>
<text x="1663" y="1148.8" font-size="28" fill="#fff" text-anchor="middle" class="cl">0.2</text>
<text x="1641" y="1248.3" font-size="28" fill="#fff" text-anchor="middle" class="cl">0.1</text>
<linearGradient id="cb" x1="0" y1="1" x2="0" y2="0"><stop offset="0" stop-color="#3e26a8"/><stop offset="0.02" stop-color="#402ab4"/><stop offset="0.03" stop-color="#422ec0"/><stop offset="0.05" stop-color="#4332cb"/><stop offset="0.06" stop-color="#4537d5"/><stop offset="0.08" stop-color="#463cde"/><stop offset="0.1" stop-color="#4741e5"/><stop offset="0.11" stop-color="#4747eb"/><stop offset="0.13" stop-color="#484df0"/><stop offset="0.14" stop-color="#4852f4"/><stop offset="0.16" stop-color="#4758f8"/><stop offset="0.17" stop-color="#465efb"/><stop offset="0.19" stop-color="#4563fd"/><stop offset="0.21" stop-color="#4269fe"/><stop offset="0.22" stop-color="#3e6fff"/><stop offset="0.24" stop-color="#3875fe"/><stop offset="0.25" stop-color="#327cfc"/><stop offset="0.27" stop-color="#2f81fa"/><stop offset="0.29" stop-color="#2e87f7"/><stop offset="0.3" stop-color="#2d8cf3"/><stop offset="0.32" stop-color="#2b91ef"/><stop offset="0.33" stop-color="#2797eb"/><stop offset="0.35" stop-color="#259be8"/><stop offset="0.37" stop-color="#23a0e5"/><stop offset="0.38" stop-color="#20a5e3"/><stop offset="0.4" stop-color="#1ca9df"/><stop offset="0.41" stop-color="#18addb"/><stop offset="0.43" stop-color="#12b1d6"/><stop offset="0.44" stop-color="#08b5d0"/><stop offset="0.46" stop-color="#01b8ca"/><stop offset="0.48" stop-color="#02bac3"/><stop offset="0.49" stop-color="#0bbdbd"/><stop offset="0.51" stop-color="#19bfb6"/><stop offset="0.52" stop-color="#24c1ae"/><stop offset="0.54" stop-color="#2cc4a7"/><stop offset="0.56" stop-color="#31c69f"/><stop offset="0.57" stop-color="#37c897"/><stop offset="0.59" stop-color="#3fca8e"/><stop offset="0.6" stop-color="#4acb84"/><stop offset="0.62" stop-color="#57cc7a"/><stop offset="0.63" stop-color="#64cd6f"/><stop offset="0.65" stop-color="#72cd64"/><stop offset="0.67" stop-color="#81cc59"/><stop offset="0.68" stop-color="#8fcb4e"/><stop offset="0.7" stop-color="#9dc943"/><stop offset="0.71" stop-color="#abc739"/><stop offset="0.73" stop-color="#b9c431"/><stop offset="0.75" stop-color="#c5c22a"/><stop offset="0.76" stop-color="#d1bf27"/><stop offset="0.78" stop-color="#dcbd29"/><stop offset="0.79" stop-color="#e6bb2d"/><stop offset="0.81" stop-color="#f0ba36"/><stop offset="0.83" stop-color="#f8ba3d"/><stop offset="0.84" stop-color="#febe3c"/><stop offset="0.86" stop-color="#fec338"/><stop offset="0.87" stop-color="#fec934"/><stop offset="0.89" stop-color="#fccf30"/><stop offset="0.9" stop-color="#fad62d"/><stop offset="0.92" stop-color="#f7dc2a"/><stop offset="0.94" stop-color="#f5e327"/><stop offset="0.95" stop-color="#f5e924"/><stop offset="0.97" stop-color="#f6ef20"/><stop offset="0.98" stop-color="#f7f51b"/><stop offset="1" stop-color="#f9fb15"/></linearGradient>
<rect x="1494.6" y="38.8" width="53.7" height="766.8" fill="url(#cb)" stroke="#262626" stroke-opacity="0.6" stroke-width="1.1"/>
<text x="1556.9" y="817.2" font-size="27">0.0</text>
<text x="1556.9" y="769.28" font-size="27">0.1</text>
<text x="1556.9" y="721.35" font-size="27">0.2</text>
<text x="1556.9" y="673.43" font-size="27">0.3</text>
<text x="1556.9" y="625.5" font-size="27">0.4</text>
<text x="1556.9" y="577.58" font-size="27">0.5</text>
<text x="1556.9" y="529.65" font-size="27">0.6</text>
<text x="1556.9" y="481.73" font-size="27">0.7</text>
<text x="1556.9" y="433.8" font-size="27">0.8</text>
<text x="1556.9" y="385.88" font-size="27">0.9</text>
<text x="1556.9" y="337.95" font-size="27">1.0</text>
<text x="1556.9" y="290.02" font-size="27">1.1</text>
<text x="1556.9" y="242.1" font-size="27">1.2</text>
<text x="1556.9" y="194.17" font-size="27">1.3</text>
<text x="1556.9" y="146.25" font-size="27">1.4</text>
<text x="1556.9" y="98.32" font-size="27">1.5</text>
<text x="1556.9" y="50.4" font-size="27">1.6</text>
<path d="M1548.3 757.68h-8.5M1548.3 709.75h-8.5M1548.3 661.83h-8.5M1548.3 613.9h-8.5M1548.3 565.98h-8.5M1548.3 518.05h-8.5M1548.3 470.12h-8.5M1548.3 422.2h-8.5M1548.3 374.27h-8.5M1548.3 326.35h-8.5M1548.3 278.42h-8.5M1548.3 230.5h-8.5M1548.3 182.57h-8.5M1548.3 134.65h-8.5M1548.3 86.72h-8.5" stroke="#262626" stroke-opacity="0.85" stroke-width="1.1" fill="none"/>
<text transform="translate(1626.3 422.2) rotate(-90)" font-size="27" text-anchor="middle">Absorbed Dose [mGy]</text>
</svg></body></html>
